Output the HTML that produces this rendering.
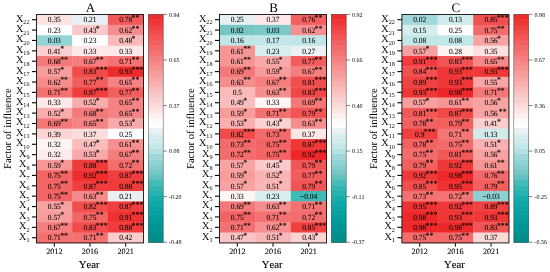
<!DOCTYPE html><html><head><meta charset="utf-8"><style>html,body{margin:0;padding:0;background:#fff;width:550px;height:272px;overflow:hidden;}svg{display:block;}text{font-family:"Liberation Serif","Times New Roman",serif;fill:#000;text-rendering:geometricPrecision;font-kerning:none;}</style></head><body>
<svg width="550" height="272" viewBox="0 0 550 272">
<g><rect x="36.50" y="14.50" width="36.07" height="10.78" fill="#fde2e2"/><rect x="72.17" y="14.50" width="36.07" height="10.78" fill="#e9f0f3"/><rect x="107.83" y="14.50" width="36.07" height="10.78" fill="#f25a5a"/><rect x="36.50" y="24.88" width="36.07" height="10.78" fill="#ffffff"/><rect x="72.17" y="24.88" width="36.07" height="10.78" fill="#fbc9c9"/><rect x="107.83" y="24.88" width="36.07" height="10.78" fill="#f68d8d"/><rect x="36.50" y="35.26" width="36.07" height="10.78" fill="#95d4d5"/><rect x="72.17" y="35.26" width="36.07" height="10.78" fill="#ffffff"/><rect x="107.83" y="35.26" width="36.07" height="10.78" fill="#f9b9b9"/><rect x="36.50" y="45.65" width="36.07" height="10.78" fill="#fbcfcf"/><rect x="72.17" y="45.65" width="36.07" height="10.78" fill="#fde8e8"/><rect x="107.83" y="45.65" width="36.07" height="10.78" fill="#fde8e8"/><rect x="36.50" y="56.03" width="36.07" height="10.78" fill="#f47a7a"/><rect x="72.17" y="56.03" width="36.07" height="10.78" fill="#f57d7d"/><rect x="107.83" y="56.03" width="36.07" height="10.78" fill="#f47171"/><rect x="36.50" y="66.41" width="36.07" height="10.78" fill="#f79d9d"/><rect x="72.17" y="66.41" width="36.07" height="10.78" fill="#f14b4b"/><rect x="107.83" y="66.41" width="36.07" height="10.78" fill="#ee2b2b"/><rect x="36.50" y="76.79" width="36.07" height="10.78" fill="#f68d8d"/><rect x="72.17" y="76.79" width="36.07" height="10.78" fill="#f25e5e"/><rect x="107.83" y="76.79" width="36.07" height="10.78" fill="#f58383"/><rect x="36.50" y="87.17" width="36.07" height="10.78" fill="#f47171"/><rect x="72.17" y="87.17" width="36.07" height="10.78" fill="#f03e3e"/><rect x="107.83" y="87.17" width="36.07" height="10.78" fill="#f25e5e"/><rect x="36.50" y="97.55" width="36.07" height="10.78" fill="#fde8e8"/><rect x="72.17" y="97.55" width="36.07" height="10.78" fill="#f8acac"/><rect x="107.83" y="97.55" width="36.07" height="10.78" fill="#f58383"/><rect x="36.50" y="107.94" width="36.07" height="10.78" fill="#f8acac"/><rect x="72.17" y="107.94" width="36.07" height="10.78" fill="#f47a7a"/><rect x="107.83" y="107.94" width="36.07" height="10.78" fill="#f58383"/><rect x="36.50" y="118.32" width="36.07" height="10.78" fill="#f47777"/><rect x="72.17" y="118.32" width="36.07" height="10.78" fill="#f58383"/><rect x="107.83" y="118.32" width="36.07" height="10.78" fill="#f8a9a9"/><rect x="36.50" y="128.70" width="36.07" height="10.78" fill="#fcd5d5"/><rect x="72.17" y="128.70" width="36.07" height="10.78" fill="#fcdcdc"/><rect x="107.83" y="128.70" width="36.07" height="10.78" fill="#ffffff"/><rect x="36.50" y="139.08" width="36.07" height="10.78" fill="#fdf4f4"/><rect x="72.17" y="139.08" width="36.07" height="10.78" fill="#fabcbc"/><rect x="107.83" y="139.08" width="36.07" height="10.78" fill="#f69090"/><rect x="36.50" y="149.46" width="36.07" height="10.78" fill="#fdecec"/><rect x="72.17" y="149.46" width="36.07" height="10.78" fill="#f8a9a9"/><rect x="107.83" y="149.46" width="36.07" height="10.78" fill="#f57d7d"/><rect x="36.50" y="159.85" width="36.07" height="10.78" fill="#f79696"/><rect x="72.17" y="159.85" width="36.07" height="10.78" fill="#ef3b3b"/><rect x="107.83" y="159.85" width="36.07" height="10.78" fill="#f36d6d"/><rect x="36.50" y="170.23" width="36.07" height="10.78" fill="#f36464"/><rect x="72.17" y="170.23" width="36.07" height="10.78" fill="#ee2e2e"/><rect x="107.83" y="170.23" width="36.07" height="10.78" fill="#f03e3e"/><rect x="36.50" y="180.61" width="36.07" height="10.78" fill="#f36464"/><rect x="72.17" y="180.61" width="36.07" height="10.78" fill="#f03e3e"/><rect x="107.83" y="180.61" width="36.07" height="10.78" fill="#ef3b3b"/><rect x="36.50" y="190.99" width="36.07" height="10.78" fill="#f36464"/><rect x="72.17" y="190.99" width="36.07" height="10.78" fill="#f68a8a"/><rect x="107.83" y="190.99" width="36.07" height="10.78" fill="#e9f0f3"/><rect x="36.50" y="201.37" width="36.07" height="10.78" fill="#f8a3a3"/><rect x="72.17" y="201.37" width="36.07" height="10.78" fill="#f14e4e"/><rect x="107.83" y="201.37" width="36.07" height="10.78" fill="#f03e3e"/><rect x="36.50" y="211.75" width="36.07" height="10.78" fill="#f79d9d"/><rect x="72.17" y="211.75" width="36.07" height="10.78" fill="#f36464"/><rect x="107.83" y="211.75" width="36.07" height="10.78" fill="#ef3131"/><rect x="36.50" y="222.14" width="36.07" height="10.78" fill="#f57d7d"/><rect x="72.17" y="222.14" width="36.07" height="10.78" fill="#f14b4b"/><rect x="107.83" y="222.14" width="36.07" height="10.78" fill="#ef3b3b"/><rect x="36.50" y="232.52" width="36.07" height="10.78" fill="#f47171"/><rect x="72.17" y="232.52" width="36.07" height="10.78" fill="#f47171"/><rect x="107.83" y="232.52" width="36.07" height="10.78" fill="#fbcccc"/><text x="47.81" y="22.39" font-size="8.0" textLength="13.04" lengthAdjust="spacingAndGlyphs" stroke="#000" stroke-width="0.05">0.35</text><text x="83.48" y="22.39" font-size="8.0" textLength="13.04" lengthAdjust="spacingAndGlyphs" stroke="#000" stroke-width="0.05">0.21</text><text x="119.15" y="22.39" font-size="8.0" textLength="13.04" lengthAdjust="spacingAndGlyphs" stroke="#000" stroke-width="0.05">0.78</text><text x="131.54" y="20.14" font-size="7.8" font-weight="bold">**</text><text x="47.81" y="32.77" font-size="8.0" textLength="13.04" lengthAdjust="spacingAndGlyphs" stroke="#000" stroke-width="0.05">0.23</text><text x="83.48" y="32.77" font-size="8.0" textLength="13.04" lengthAdjust="spacingAndGlyphs" stroke="#000" stroke-width="0.05">0.43</text><text x="95.87" y="30.52" font-size="7.8" font-weight="bold">*</text><text x="119.15" y="32.77" font-size="8.0" textLength="13.04" lengthAdjust="spacingAndGlyphs" stroke="#000" stroke-width="0.05">0.62</text><text x="131.54" y="30.52" font-size="7.8" font-weight="bold">**</text><text x="47.81" y="43.15" font-size="8.0" textLength="13.04" lengthAdjust="spacingAndGlyphs" stroke="#000" stroke-width="0.05">0.03</text><text x="83.48" y="43.15" font-size="8.0" textLength="13.04" lengthAdjust="spacingAndGlyphs" stroke="#000" stroke-width="0.05">0.23</text><text x="119.15" y="43.15" font-size="8.0" textLength="13.04" lengthAdjust="spacingAndGlyphs" stroke="#000" stroke-width="0.05">0.48</text><text x="131.54" y="40.90" font-size="7.8" font-weight="bold">*</text><text x="47.81" y="53.54" font-size="8.0" textLength="13.04" lengthAdjust="spacingAndGlyphs" stroke="#000" stroke-width="0.05">0.41</text><text x="60.20" y="51.29" font-size="7.8" font-weight="bold">*</text><text x="83.48" y="53.54" font-size="8.0" textLength="13.04" lengthAdjust="spacingAndGlyphs" stroke="#000" stroke-width="0.05">0.33</text><text x="119.15" y="53.54" font-size="8.0" textLength="13.04" lengthAdjust="spacingAndGlyphs" stroke="#000" stroke-width="0.05">0.33</text><text x="47.81" y="63.92" font-size="8.0" textLength="13.04" lengthAdjust="spacingAndGlyphs" stroke="#000" stroke-width="0.05">0.68</text><text x="60.20" y="61.67" font-size="7.8" font-weight="bold">**</text><text x="83.48" y="63.92" font-size="8.0" textLength="13.04" lengthAdjust="spacingAndGlyphs" stroke="#000" stroke-width="0.05">0.67</text><text x="95.87" y="61.67" font-size="7.8" font-weight="bold">**</text><text x="119.15" y="63.92" font-size="8.0" textLength="13.04" lengthAdjust="spacingAndGlyphs" stroke="#000" stroke-width="0.05">0.71</text><text x="131.54" y="61.67" font-size="7.8" font-weight="bold">**</text><text x="47.81" y="74.30" font-size="8.0" textLength="13.04" lengthAdjust="spacingAndGlyphs" stroke="#000" stroke-width="0.05">0.57</text><text x="60.20" y="72.05" font-size="7.8" font-weight="bold">*</text><text x="83.48" y="74.30" font-size="8.0" textLength="13.04" lengthAdjust="spacingAndGlyphs" stroke="#000" stroke-width="0.05">0.83</text><text x="95.87" y="72.05" font-size="7.8" font-weight="bold">***</text><text x="119.15" y="74.30" font-size="8.0" textLength="13.04" lengthAdjust="spacingAndGlyphs" stroke="#000" stroke-width="0.05">0.93</text><text x="131.54" y="72.05" font-size="7.8" font-weight="bold">***</text><text x="47.81" y="84.68" font-size="8.0" textLength="13.04" lengthAdjust="spacingAndGlyphs" stroke="#000" stroke-width="0.05">0.62</text><text x="60.20" y="82.43" font-size="7.8" font-weight="bold">**</text><text x="83.48" y="84.68" font-size="8.0" textLength="13.04" lengthAdjust="spacingAndGlyphs" stroke="#000" stroke-width="0.05">0.77</text><text x="95.87" y="82.43" font-size="7.8" font-weight="bold">**</text><text x="119.15" y="84.68" font-size="8.0" textLength="13.04" lengthAdjust="spacingAndGlyphs" stroke="#000" stroke-width="0.05">0.65</text><text x="131.54" y="82.43" font-size="7.8" font-weight="bold">**</text><text x="47.81" y="95.06" font-size="8.0" textLength="13.04" lengthAdjust="spacingAndGlyphs" stroke="#000" stroke-width="0.05">0.71</text><text x="60.20" y="92.81" font-size="7.8" font-weight="bold">**</text><text x="83.48" y="95.06" font-size="8.0" textLength="13.04" lengthAdjust="spacingAndGlyphs" stroke="#000" stroke-width="0.05">0.87</text><text x="95.87" y="92.81" font-size="7.8" font-weight="bold">***</text><text x="119.15" y="95.06" font-size="8.0" textLength="13.04" lengthAdjust="spacingAndGlyphs" stroke="#000" stroke-width="0.05">0.77</text><text x="131.54" y="92.81" font-size="7.8" font-weight="bold">**</text><text x="47.81" y="105.45" font-size="8.0" textLength="13.04" lengthAdjust="spacingAndGlyphs" stroke="#000" stroke-width="0.05">0.33</text><text x="83.48" y="105.45" font-size="8.0" textLength="13.04" lengthAdjust="spacingAndGlyphs" stroke="#000" stroke-width="0.05">0.52</text><text x="95.87" y="103.20" font-size="7.8" font-weight="bold">*</text><text x="119.15" y="105.45" font-size="8.0" textLength="13.04" lengthAdjust="spacingAndGlyphs" stroke="#000" stroke-width="0.05">0.65</text><text x="131.54" y="103.20" font-size="7.8" font-weight="bold">**</text><text x="47.81" y="115.83" font-size="8.0" textLength="13.04" lengthAdjust="spacingAndGlyphs" stroke="#000" stroke-width="0.05">0.52</text><text x="60.20" y="113.58" font-size="7.8" font-weight="bold">*</text><text x="83.48" y="115.83" font-size="8.0" textLength="13.04" lengthAdjust="spacingAndGlyphs" stroke="#000" stroke-width="0.05">0.68</text><text x="95.87" y="113.58" font-size="7.8" font-weight="bold">**</text><text x="119.15" y="115.83" font-size="8.0" textLength="13.04" lengthAdjust="spacingAndGlyphs" stroke="#000" stroke-width="0.05">0.65</text><text x="131.54" y="113.58" font-size="7.8" font-weight="bold">**</text><text x="47.81" y="126.21" font-size="8.0" textLength="13.04" lengthAdjust="spacingAndGlyphs" stroke="#000" stroke-width="0.05">0.69</text><text x="60.20" y="123.96" font-size="7.8" font-weight="bold">**</text><text x="83.48" y="126.21" font-size="8.0" textLength="13.04" lengthAdjust="spacingAndGlyphs" stroke="#000" stroke-width="0.05">0.65</text><text x="95.87" y="123.96" font-size="7.8" font-weight="bold">**</text><text x="119.15" y="126.21" font-size="8.0" textLength="13.04" lengthAdjust="spacingAndGlyphs" stroke="#000" stroke-width="0.05">0.53</text><text x="131.54" y="123.96" font-size="7.8" font-weight="bold">*</text><text x="47.81" y="136.59" font-size="8.0" textLength="13.04" lengthAdjust="spacingAndGlyphs" stroke="#000" stroke-width="0.05">0.39</text><text x="83.48" y="136.59" font-size="8.0" textLength="13.04" lengthAdjust="spacingAndGlyphs" stroke="#000" stroke-width="0.05">0.37</text><text x="119.15" y="136.59" font-size="8.0" textLength="13.04" lengthAdjust="spacingAndGlyphs" stroke="#000" stroke-width="0.05">0.25</text><text x="47.81" y="146.97" font-size="8.0" textLength="13.04" lengthAdjust="spacingAndGlyphs" stroke="#000" stroke-width="0.05">0.32</text><text x="83.48" y="146.97" font-size="8.0" textLength="13.04" lengthAdjust="spacingAndGlyphs" stroke="#000" stroke-width="0.05">0.47</text><text x="95.87" y="144.72" font-size="7.8" font-weight="bold">*</text><text x="119.15" y="146.97" font-size="8.0" textLength="13.04" lengthAdjust="spacingAndGlyphs" stroke="#000" stroke-width="0.05">0.61</text><text x="131.54" y="144.72" font-size="7.8" font-weight="bold">**</text><text x="47.81" y="157.35" font-size="8.0" textLength="13.04" lengthAdjust="spacingAndGlyphs" stroke="#000" stroke-width="0.05">0.32</text><text x="83.48" y="157.35" font-size="8.0" textLength="13.04" lengthAdjust="spacingAndGlyphs" stroke="#000" stroke-width="0.05">0.53</text><text x="95.87" y="155.10" font-size="7.8" font-weight="bold">*</text><text x="119.15" y="157.35" font-size="8.0" textLength="13.04" lengthAdjust="spacingAndGlyphs" stroke="#000" stroke-width="0.05">0.67</text><text x="131.54" y="155.10" font-size="7.8" font-weight="bold">**</text><text x="47.81" y="167.74" font-size="8.0" textLength="13.04" lengthAdjust="spacingAndGlyphs" stroke="#000" stroke-width="0.05">0.59</text><text x="60.20" y="165.49" font-size="7.8" font-weight="bold">*</text><text x="83.48" y="167.74" font-size="8.0" textLength="13.04" lengthAdjust="spacingAndGlyphs" stroke="#000" stroke-width="0.05">0.88</text><text x="95.87" y="165.49" font-size="7.8" font-weight="bold">***</text><text x="119.15" y="167.74" font-size="8.0" textLength="13.04" lengthAdjust="spacingAndGlyphs" stroke="#000" stroke-width="0.05">0.72</text><text x="131.54" y="165.49" font-size="7.8" font-weight="bold">**</text><text x="47.81" y="178.12" font-size="8.0" textLength="13.04" lengthAdjust="spacingAndGlyphs" stroke="#000" stroke-width="0.05">0.75</text><text x="60.20" y="175.87" font-size="7.8" font-weight="bold">**</text><text x="83.48" y="178.12" font-size="8.0" textLength="13.04" lengthAdjust="spacingAndGlyphs" stroke="#000" stroke-width="0.05">0.92</text><text x="95.87" y="175.87" font-size="7.8" font-weight="bold">***</text><text x="119.15" y="178.12" font-size="8.0" textLength="13.04" lengthAdjust="spacingAndGlyphs" stroke="#000" stroke-width="0.05">0.87</text><text x="131.54" y="175.87" font-size="7.8" font-weight="bold">***</text><text x="47.81" y="188.50" font-size="8.0" textLength="13.04" lengthAdjust="spacingAndGlyphs" stroke="#000" stroke-width="0.05">0.75</text><text x="60.20" y="186.25" font-size="7.8" font-weight="bold">**</text><text x="83.48" y="188.50" font-size="8.0" textLength="13.04" lengthAdjust="spacingAndGlyphs" stroke="#000" stroke-width="0.05">0.87</text><text x="95.87" y="186.25" font-size="7.8" font-weight="bold">***</text><text x="119.15" y="188.50" font-size="8.0" textLength="13.04" lengthAdjust="spacingAndGlyphs" stroke="#000" stroke-width="0.05">0.88</text><text x="131.54" y="186.25" font-size="7.8" font-weight="bold">***</text><text x="47.81" y="198.88" font-size="8.0" textLength="13.04" lengthAdjust="spacingAndGlyphs" stroke="#000" stroke-width="0.05">0.75</text><text x="60.20" y="196.63" font-size="7.8" font-weight="bold">**</text><text x="83.48" y="198.88" font-size="8.0" textLength="13.04" lengthAdjust="spacingAndGlyphs" stroke="#000" stroke-width="0.05">0.63</text><text x="95.87" y="196.63" font-size="7.8" font-weight="bold">**</text><text x="119.15" y="198.88" font-size="8.0" textLength="13.04" lengthAdjust="spacingAndGlyphs" stroke="#000" stroke-width="0.05">0.21</text><text x="47.81" y="209.26" font-size="8.0" textLength="13.04" lengthAdjust="spacingAndGlyphs" stroke="#000" stroke-width="0.05">0.55</text><text x="60.20" y="207.01" font-size="7.8" font-weight="bold">*</text><text x="83.48" y="209.26" font-size="8.0" textLength="13.04" lengthAdjust="spacingAndGlyphs" stroke="#000" stroke-width="0.05">0.82</text><text x="95.87" y="207.01" font-size="7.8" font-weight="bold">***</text><text x="119.15" y="209.26" font-size="8.0" textLength="13.04" lengthAdjust="spacingAndGlyphs" stroke="#000" stroke-width="0.05">0.87</text><text x="131.54" y="207.01" font-size="7.8" font-weight="bold">***</text><text x="47.81" y="219.65" font-size="8.0" textLength="13.04" lengthAdjust="spacingAndGlyphs" stroke="#000" stroke-width="0.05">0.57</text><text x="60.20" y="217.40" font-size="7.8" font-weight="bold">*</text><text x="83.48" y="219.65" font-size="8.0" textLength="13.04" lengthAdjust="spacingAndGlyphs" stroke="#000" stroke-width="0.05">0.75</text><text x="95.87" y="217.40" font-size="7.8" font-weight="bold">**</text><text x="119.15" y="219.65" font-size="8.0" textLength="13.04" lengthAdjust="spacingAndGlyphs" stroke="#000" stroke-width="0.05">0.91</text><text x="131.54" y="217.40" font-size="7.8" font-weight="bold">***</text><text x="47.81" y="230.03" font-size="8.0" textLength="13.04" lengthAdjust="spacingAndGlyphs" stroke="#000" stroke-width="0.05">0.67</text><text x="60.20" y="227.78" font-size="7.8" font-weight="bold">**</text><text x="83.48" y="230.03" font-size="8.0" textLength="13.04" lengthAdjust="spacingAndGlyphs" stroke="#000" stroke-width="0.05">0.83</text><text x="95.87" y="227.78" font-size="7.8" font-weight="bold">***</text><text x="119.15" y="230.03" font-size="8.0" textLength="13.04" lengthAdjust="spacingAndGlyphs" stroke="#000" stroke-width="0.05">0.88</text><text x="131.54" y="227.78" font-size="7.8" font-weight="bold">***</text><text x="47.81" y="240.41" font-size="8.0" textLength="13.04" lengthAdjust="spacingAndGlyphs" stroke="#000" stroke-width="0.05">0.71</text><text x="60.20" y="238.16" font-size="7.8" font-weight="bold">**</text><text x="83.48" y="240.41" font-size="8.0" textLength="13.04" lengthAdjust="spacingAndGlyphs" stroke="#000" stroke-width="0.05">0.71</text><text x="95.87" y="238.16" font-size="7.8" font-weight="bold">**</text><text x="119.15" y="240.41" font-size="8.0" textLength="13.04" lengthAdjust="spacingAndGlyphs" stroke="#000" stroke-width="0.05">0.42</text><rect x="36.50" y="14.50" width="107.00" height="228.40" fill="none" stroke="#1a1a1a" stroke-width="0.95"/><line x1="32.00" y1="19.69" x2="36.50" y2="19.69" stroke="#000" stroke-width="1.1"/><text x="29.50" y="21.59" font-size="10.2" text-anchor="end">X<tspan font-size="6.2" dy="2.6">22</tspan></text><line x1="32.00" y1="30.07" x2="36.50" y2="30.07" stroke="#000" stroke-width="1.1"/><text x="29.50" y="31.97" font-size="10.2" text-anchor="end">X<tspan font-size="6.2" dy="2.6">21</tspan></text><line x1="32.00" y1="40.45" x2="36.50" y2="40.45" stroke="#000" stroke-width="1.1"/><text x="29.50" y="42.35" font-size="10.2" text-anchor="end">X<tspan font-size="6.2" dy="2.6">20</tspan></text><line x1="32.00" y1="50.84" x2="36.50" y2="50.84" stroke="#000" stroke-width="1.1"/><text x="29.50" y="52.74" font-size="10.2" text-anchor="end">X<tspan font-size="6.2" dy="2.6">19</tspan></text><line x1="32.00" y1="61.22" x2="36.50" y2="61.22" stroke="#000" stroke-width="1.1"/><text x="29.50" y="63.12" font-size="10.2" text-anchor="end">X<tspan font-size="6.2" dy="2.6">18</tspan></text><line x1="32.00" y1="71.60" x2="36.50" y2="71.60" stroke="#000" stroke-width="1.1"/><text x="29.50" y="73.50" font-size="10.2" text-anchor="end">X<tspan font-size="6.2" dy="2.6">17</tspan></text><line x1="32.00" y1="81.98" x2="36.50" y2="81.98" stroke="#000" stroke-width="1.1"/><text x="29.50" y="83.88" font-size="10.2" text-anchor="end">X<tspan font-size="6.2" dy="2.6">16</tspan></text><line x1="32.00" y1="92.36" x2="36.50" y2="92.36" stroke="#000" stroke-width="1.1"/><text x="29.50" y="94.26" font-size="10.2" text-anchor="end">X<tspan font-size="6.2" dy="2.6">15</tspan></text><line x1="32.00" y1="102.75" x2="36.50" y2="102.75" stroke="#000" stroke-width="1.1"/><text x="29.50" y="104.65" font-size="10.2" text-anchor="end">X<tspan font-size="6.2" dy="2.6">14</tspan></text><line x1="32.00" y1="113.13" x2="36.50" y2="113.13" stroke="#000" stroke-width="1.1"/><text x="29.50" y="115.03" font-size="10.2" text-anchor="end">X<tspan font-size="6.2" dy="2.6">13</tspan></text><line x1="32.00" y1="123.51" x2="36.50" y2="123.51" stroke="#000" stroke-width="1.1"/><text x="29.50" y="125.41" font-size="10.2" text-anchor="end">X<tspan font-size="6.2" dy="2.6">12</tspan></text><line x1="32.00" y1="133.89" x2="36.50" y2="133.89" stroke="#000" stroke-width="1.1"/><text x="29.50" y="135.79" font-size="10.2" text-anchor="end">X<tspan font-size="6.2" dy="2.6">11</tspan></text><line x1="32.00" y1="144.27" x2="36.50" y2="144.27" stroke="#000" stroke-width="1.1"/><text x="29.50" y="146.17" font-size="10.2" text-anchor="end">X<tspan font-size="6.2" dy="2.6">10</tspan></text><line x1="32.00" y1="154.65" x2="36.50" y2="154.65" stroke="#000" stroke-width="1.1"/><text x="29.50" y="156.55" font-size="10.2" text-anchor="end">X<tspan font-size="6.2" dy="2.6">9</tspan></text><line x1="32.00" y1="165.04" x2="36.50" y2="165.04" stroke="#000" stroke-width="1.1"/><text x="29.50" y="166.94" font-size="10.2" text-anchor="end">X<tspan font-size="6.2" dy="2.6">8</tspan></text><line x1="32.00" y1="175.42" x2="36.50" y2="175.42" stroke="#000" stroke-width="1.1"/><text x="29.50" y="177.32" font-size="10.2" text-anchor="end">X<tspan font-size="6.2" dy="2.6">7</tspan></text><line x1="32.00" y1="185.80" x2="36.50" y2="185.80" stroke="#000" stroke-width="1.1"/><text x="29.50" y="187.70" font-size="10.2" text-anchor="end">X<tspan font-size="6.2" dy="2.6">6</tspan></text><line x1="32.00" y1="196.18" x2="36.50" y2="196.18" stroke="#000" stroke-width="1.1"/><text x="29.50" y="198.08" font-size="10.2" text-anchor="end">X<tspan font-size="6.2" dy="2.6">5</tspan></text><line x1="32.00" y1="206.56" x2="36.50" y2="206.56" stroke="#000" stroke-width="1.1"/><text x="29.50" y="208.46" font-size="10.2" text-anchor="end">X<tspan font-size="6.2" dy="2.6">4</tspan></text><line x1="32.00" y1="216.95" x2="36.50" y2="216.95" stroke="#000" stroke-width="1.1"/><text x="29.50" y="218.85" font-size="10.2" text-anchor="end">X<tspan font-size="6.2" dy="2.6">3</tspan></text><line x1="32.00" y1="227.33" x2="36.50" y2="227.33" stroke="#000" stroke-width="1.1"/><text x="29.50" y="229.23" font-size="10.2" text-anchor="end">X<tspan font-size="6.2" dy="2.6">2</tspan></text><line x1="32.00" y1="237.71" x2="36.50" y2="237.71" stroke="#000" stroke-width="1.1"/><text x="29.50" y="239.61" font-size="10.2" text-anchor="end">X<tspan font-size="6.2" dy="2.6">1</tspan></text><line x1="54.33" y1="242.90" x2="54.33" y2="246.80" stroke="#222" stroke-width="1.1"/><text x="54.33" y="253.6" font-size="8.2" text-anchor="middle" stroke="#000" stroke-width="0.08">2012</text><line x1="90.00" y1="242.90" x2="90.00" y2="246.80" stroke="#222" stroke-width="1.1"/><text x="90.00" y="253.6" font-size="8.2" text-anchor="middle" stroke="#000" stroke-width="0.08">2016</text><line x1="125.67" y1="242.90" x2="125.67" y2="246.80" stroke="#222" stroke-width="1.1"/><text x="125.67" y="253.6" font-size="8.2" text-anchor="middle" stroke="#000" stroke-width="0.08">2021</text><text x="89.10" y="267.6" font-size="10.7" text-anchor="middle" stroke="#000" stroke-width="0.15">Year</text><text x="90.50" y="11.6" font-size="13" text-anchor="middle">A</text><text transform="translate(11.20,128.70) rotate(-90)" font-size="10.6" text-anchor="middle">Factor of influence</text><defs><linearGradient id="cbA" x1="0" y1="0" x2="0" y2="1"><stop offset="0.0000" stop-color="#ee2d2d"/><stop offset="0.0227" stop-color="#ee2d2d"/><stop offset="0.0227" stop-color="#ef3737"/><stop offset="0.0455" stop-color="#ef3737"/><stop offset="0.0455" stop-color="#f04141"/><stop offset="0.0682" stop-color="#f04141"/><stop offset="0.0682" stop-color="#f14c4c"/><stop offset="0.0909" stop-color="#f14c4c"/><stop offset="0.0909" stop-color="#f25656"/><stop offset="0.1136" stop-color="#f25656"/><stop offset="0.1136" stop-color="#f26060"/><stop offset="0.1364" stop-color="#f26060"/><stop offset="0.1364" stop-color="#f36a6a"/><stop offset="0.1591" stop-color="#f36a6a"/><stop offset="0.1591" stop-color="#f47474"/><stop offset="0.1818" stop-color="#f47474"/><stop offset="0.1818" stop-color="#f57f7f"/><stop offset="0.2045" stop-color="#f57f7f"/><stop offset="0.2045" stop-color="#f68989"/><stop offset="0.2273" stop-color="#f68989"/><stop offset="0.2273" stop-color="#f69393"/><stop offset="0.2500" stop-color="#f69393"/><stop offset="0.2500" stop-color="#f79d9d"/><stop offset="0.2727" stop-color="#f79d9d"/><stop offset="0.2727" stop-color="#f8a7a7"/><stop offset="0.2955" stop-color="#f8a7a7"/><stop offset="0.2955" stop-color="#f9b1b1"/><stop offset="0.3182" stop-color="#f9b1b1"/><stop offset="0.3182" stop-color="#fabcbc"/><stop offset="0.3409" stop-color="#fabcbc"/><stop offset="0.3409" stop-color="#fac6c6"/><stop offset="0.3636" stop-color="#fac6c6"/><stop offset="0.3636" stop-color="#fbd0d0"/><stop offset="0.3864" stop-color="#fbd0d0"/><stop offset="0.3864" stop-color="#fcdada"/><stop offset="0.4091" stop-color="#fcdada"/><stop offset="0.4091" stop-color="#fde4e4"/><stop offset="0.4318" stop-color="#fde4e4"/><stop offset="0.4318" stop-color="#feefef"/><stop offset="0.4545" stop-color="#feefef"/><stop offset="0.4545" stop-color="#fff9f9"/><stop offset="0.4773" stop-color="#fff9f9"/><stop offset="0.4773" stop-color="#ffffff"/><stop offset="0.5000" stop-color="#ffffff"/><stop offset="0.5000" stop-color="#eaf0f3"/><stop offset="0.5227" stop-color="#eaf0f3"/><stop offset="0.5227" stop-color="#d8eeee"/><stop offset="0.5455" stop-color="#d8eeee"/><stop offset="0.5455" stop-color="#cdebeb"/><stop offset="0.5682" stop-color="#cdebeb"/><stop offset="0.5682" stop-color="#c4e7e9"/><stop offset="0.5909" stop-color="#c4e7e9"/><stop offset="0.5909" stop-color="#b5e1e3"/><stop offset="0.6136" stop-color="#b5e1e3"/><stop offset="0.6136" stop-color="#a0d8d9"/><stop offset="0.6364" stop-color="#a0d8d9"/><stop offset="0.6364" stop-color="#91d2d3"/><stop offset="0.6591" stop-color="#91d2d3"/><stop offset="0.6591" stop-color="#84cdcd"/><stop offset="0.6818" stop-color="#84cdcd"/><stop offset="0.6818" stop-color="#78c7c6"/><stop offset="0.7045" stop-color="#78c7c6"/><stop offset="0.7045" stop-color="#60c1bf"/><stop offset="0.7273" stop-color="#60c1bf"/><stop offset="0.7273" stop-color="#46bcb8"/><stop offset="0.7500" stop-color="#46bcb8"/><stop offset="0.7500" stop-color="#33b6b3"/><stop offset="0.7727" stop-color="#33b6b3"/><stop offset="0.7727" stop-color="#25b2b0"/><stop offset="0.7955" stop-color="#25b2b0"/><stop offset="0.7955" stop-color="#16adac"/><stop offset="0.8182" stop-color="#16adac"/><stop offset="0.8182" stop-color="#10a8a8"/><stop offset="0.8409" stop-color="#10a8a8"/><stop offset="0.8409" stop-color="#0ca4a4"/><stop offset="0.8636" stop-color="#0ca4a4"/><stop offset="0.8636" stop-color="#08a09f"/><stop offset="0.8864" stop-color="#08a09f"/><stop offset="0.8864" stop-color="#049c9a"/><stop offset="0.9091" stop-color="#049c9a"/><stop offset="0.9091" stop-color="#009896"/><stop offset="0.9318" stop-color="#009896"/><stop offset="0.9318" stop-color="#009493"/><stop offset="0.9545" stop-color="#009493"/><stop offset="0.9545" stop-color="#00908f"/><stop offset="0.9773" stop-color="#00908f"/><stop offset="0.9773" stop-color="#008c8c"/><stop offset="1.0000" stop-color="#008c8c"/></linearGradient></defs><rect x="148.40" y="14.30" width="14.80" height="228.30" fill="url(#cbA)"/><rect x="148.40" y="14.30" width="14.80" height="228.30" fill="none" stroke="#000" stroke-opacity="0.6" stroke-width="0.6"/><line x1="163.20" y1="14.40" x2="167.00" y2="14.40" stroke="#333" stroke-width="0.6"/><text x="169.00" y="16.50" font-size="6" fill="#4a4a4a">0.94</text><line x1="163.20" y1="59.96" x2="167.00" y2="59.96" stroke="#333" stroke-width="0.6"/><text x="169.00" y="62.06" font-size="6" fill="#4a4a4a">0.65</text><line x1="163.20" y1="105.52" x2="167.00" y2="105.52" stroke="#333" stroke-width="0.6"/><text x="169.00" y="107.62" font-size="6" fill="#4a4a4a">0.37</text><line x1="163.20" y1="151.08" x2="167.00" y2="151.08" stroke="#333" stroke-width="0.6"/><text x="169.00" y="153.18" font-size="6" fill="#4a4a4a">0.08</text><line x1="163.20" y1="196.64" x2="167.00" y2="196.64" stroke="#333" stroke-width="0.6"/><text x="169.00" y="198.74" font-size="6" fill="#4a4a4a">-0.20</text><line x1="163.20" y1="242.20" x2="167.00" y2="242.20" stroke="#333" stroke-width="0.6"/><text x="169.00" y="244.30" font-size="6" fill="#4a4a4a">-0.48</text></g>
<g><rect x="219.50" y="14.50" width="36.07" height="10.78" fill="#e5f0f2"/><rect x="255.17" y="14.50" width="36.07" height="10.78" fill="#fde7e7"/><rect x="290.83" y="14.50" width="36.07" height="10.78" fill="#f26060"/><rect x="219.50" y="24.88" width="36.07" height="10.78" fill="#76c6c5"/><rect x="255.17" y="24.88" width="36.07" height="10.78" fill="#7ac8c7"/><rect x="290.83" y="24.88" width="36.07" height="10.78" fill="#f69090"/><rect x="219.50" y="35.26" width="36.07" height="10.78" fill="#c0e6e8"/><rect x="255.17" y="35.26" width="36.07" height="10.78" fill="#c3e7e9"/><rect x="290.83" y="35.26" width="36.07" height="10.78" fill="#c0e6e8"/><rect x="219.50" y="45.65" width="36.07" height="10.78" fill="#f79494"/><rect x="255.17" y="45.65" width="36.07" height="10.78" fill="#d7eeee"/><rect x="290.83" y="45.65" width="36.07" height="10.78" fill="#ebf1f4"/><rect x="219.50" y="56.03" width="36.07" height="10.78" fill="#f79494"/><rect x="255.17" y="56.03" width="36.07" height="10.78" fill="#f8a8a8"/><rect x="290.83" y="56.03" width="36.07" height="10.78" fill="#f25c5c"/><rect x="219.50" y="66.41" width="36.07" height="10.78" fill="#f47878"/><rect x="255.17" y="66.41" width="36.07" height="10.78" fill="#f79b9b"/><rect x="290.83" y="66.41" width="36.07" height="10.78" fill="#f57f7f"/><rect x="219.50" y="76.79" width="36.07" height="10.78" fill="#f68d8d"/><rect x="255.17" y="76.79" width="36.07" height="10.78" fill="#f57f7f"/><rect x="290.83" y="76.79" width="36.07" height="10.78" fill="#f14e4e"/><rect x="219.50" y="87.17" width="36.07" height="10.78" fill="#fababa"/><rect x="255.17" y="87.17" width="36.07" height="10.78" fill="#f68d8d"/><rect x="290.83" y="87.17" width="36.07" height="10.78" fill="#f04747"/><rect x="219.50" y="97.55" width="36.07" height="10.78" fill="#fabdbd"/><rect x="255.17" y="97.55" width="36.07" height="10.78" fill="#fef5f5"/><rect x="290.83" y="97.55" width="36.07" height="10.78" fill="#f47878"/><rect x="219.50" y="107.94" width="36.07" height="10.78" fill="#f79b9b"/><rect x="255.17" y="107.94" width="36.07" height="10.78" fill="#f47171"/><rect x="290.83" y="107.94" width="36.07" height="10.78" fill="#f25555"/><rect x="219.50" y="118.32" width="36.07" height="10.78" fill="#f9afaf"/><rect x="255.17" y="118.32" width="36.07" height="10.78" fill="#fbd2d2"/><rect x="290.83" y="118.32" width="36.07" height="10.78" fill="#f68d8d"/><rect x="219.50" y="128.70" width="36.07" height="10.78" fill="#f14b4b"/><rect x="255.17" y="128.70" width="36.07" height="10.78" fill="#f36a6a"/><rect x="290.83" y="128.70" width="36.07" height="10.78" fill="#fde7e7"/><rect x="219.50" y="139.08" width="36.07" height="10.78" fill="#f36a6a"/><rect x="255.17" y="139.08" width="36.07" height="10.78" fill="#f36363"/><rect x="290.83" y="139.08" width="36.07" height="10.78" fill="#ef3939"/><rect x="219.50" y="149.46" width="36.07" height="10.78" fill="#f36d6d"/><rect x="255.17" y="149.46" width="36.07" height="10.78" fill="#f36363"/><rect x="290.83" y="149.46" width="36.07" height="10.78" fill="#ee2828"/><rect x="219.50" y="159.85" width="36.07" height="10.78" fill="#f8a2a2"/><rect x="255.17" y="159.85" width="36.07" height="10.78" fill="#fbcbcb"/><rect x="290.83" y="159.85" width="36.07" height="10.78" fill="#f25555"/><rect x="219.50" y="170.23" width="36.07" height="10.78" fill="#f79b9b"/><rect x="255.17" y="170.23" width="36.07" height="10.78" fill="#f9b3b3"/><rect x="290.83" y="170.23" width="36.07" height="10.78" fill="#f25c5c"/><rect x="219.50" y="180.61" width="36.07" height="10.78" fill="#f8a2a2"/><rect x="255.17" y="180.61" width="36.07" height="10.78" fill="#f9b6b6"/><rect x="290.83" y="180.61" width="36.07" height="10.78" fill="#f25555"/><rect x="219.50" y="190.99" width="36.07" height="10.78" fill="#fef5f5"/><rect x="255.17" y="190.99" width="36.07" height="10.78" fill="#d7eeee"/><rect x="290.83" y="190.99" width="36.07" height="10.78" fill="#3fbab6"/><rect x="219.50" y="201.37" width="36.07" height="10.78" fill="#f47878"/><rect x="255.17" y="201.37" width="36.07" height="10.78" fill="#f68d8d"/><rect x="290.83" y="201.37" width="36.07" height="10.78" fill="#f47171"/><rect x="219.50" y="211.75" width="36.07" height="10.78" fill="#f36363"/><rect x="255.17" y="211.75" width="36.07" height="10.78" fill="#f47171"/><rect x="290.83" y="211.75" width="36.07" height="10.78" fill="#f36d6d"/><rect x="219.50" y="222.14" width="36.07" height="10.78" fill="#f47171"/><rect x="255.17" y="222.14" width="36.07" height="10.78" fill="#f69090"/><rect x="290.83" y="222.14" width="36.07" height="10.78" fill="#f04040"/><rect x="219.50" y="232.52" width="36.07" height="10.78" fill="#fac4c4"/><rect x="255.17" y="232.52" width="36.07" height="10.78" fill="#f9b6b6"/><rect x="290.83" y="232.52" width="36.07" height="10.78" fill="#fbd2d2"/><text x="230.81" y="22.39" font-size="8.0" textLength="13.04" lengthAdjust="spacingAndGlyphs" stroke="#000" stroke-width="0.05">0.25</text><text x="266.48" y="22.39" font-size="8.0" textLength="13.04" lengthAdjust="spacingAndGlyphs" stroke="#000" stroke-width="0.05">0.37</text><text x="302.15" y="22.39" font-size="8.0" textLength="13.04" lengthAdjust="spacingAndGlyphs" stroke="#000" stroke-width="0.05">0.76</text><text x="314.54" y="20.14" font-size="7.8" font-weight="bold">**</text><text x="230.81" y="32.77" font-size="8.0" textLength="13.04" lengthAdjust="spacingAndGlyphs" stroke="#000" stroke-width="0.05">0.02</text><text x="266.48" y="32.77" font-size="8.0" textLength="13.04" lengthAdjust="spacingAndGlyphs" stroke="#000" stroke-width="0.05">0.03</text><text x="302.15" y="32.77" font-size="8.0" textLength="13.04" lengthAdjust="spacingAndGlyphs" stroke="#000" stroke-width="0.05">0.62</text><text x="314.54" y="30.52" font-size="7.8" font-weight="bold">**</text><text x="230.81" y="43.15" font-size="8.0" textLength="13.04" lengthAdjust="spacingAndGlyphs" stroke="#000" stroke-width="0.05">0.16</text><text x="266.48" y="43.15" font-size="8.0" textLength="13.04" lengthAdjust="spacingAndGlyphs" stroke="#000" stroke-width="0.05">0.17</text><text x="302.15" y="43.15" font-size="8.0" textLength="13.04" lengthAdjust="spacingAndGlyphs" stroke="#000" stroke-width="0.05">0.16</text><text x="230.81" y="53.54" font-size="8.0" textLength="13.04" lengthAdjust="spacingAndGlyphs" stroke="#000" stroke-width="0.05">0.61</text><text x="243.20" y="51.29" font-size="7.8" font-weight="bold">**</text><text x="266.48" y="53.54" font-size="8.0" textLength="13.04" lengthAdjust="spacingAndGlyphs" stroke="#000" stroke-width="0.05">0.23</text><text x="302.15" y="53.54" font-size="8.0" textLength="13.04" lengthAdjust="spacingAndGlyphs" stroke="#000" stroke-width="0.05">0.27</text><text x="230.81" y="63.92" font-size="8.0" textLength="13.04" lengthAdjust="spacingAndGlyphs" stroke="#000" stroke-width="0.05">0.61</text><text x="243.20" y="61.67" font-size="7.8" font-weight="bold">**</text><text x="266.48" y="63.92" font-size="8.0" textLength="13.04" lengthAdjust="spacingAndGlyphs" stroke="#000" stroke-width="0.05">0.55</text><text x="278.87" y="61.67" font-size="7.8" font-weight="bold">*</text><text x="302.15" y="63.92" font-size="8.0" textLength="13.04" lengthAdjust="spacingAndGlyphs" stroke="#000" stroke-width="0.05">0.77</text><text x="314.54" y="61.67" font-size="7.8" font-weight="bold">**</text><text x="230.81" y="74.30" font-size="8.0" textLength="13.04" lengthAdjust="spacingAndGlyphs" stroke="#000" stroke-width="0.05">0.69</text><text x="243.20" y="72.05" font-size="7.8" font-weight="bold">**</text><text x="266.48" y="74.30" font-size="8.0" textLength="13.04" lengthAdjust="spacingAndGlyphs" stroke="#000" stroke-width="0.05">0.59</text><text x="278.87" y="72.05" font-size="7.8" font-weight="bold">*</text><text x="302.15" y="74.30" font-size="8.0" textLength="13.04" lengthAdjust="spacingAndGlyphs" stroke="#000" stroke-width="0.05">0.67</text><text x="314.54" y="72.05" font-size="7.8" font-weight="bold">**</text><text x="230.81" y="84.68" font-size="8.0" textLength="13.04" lengthAdjust="spacingAndGlyphs" stroke="#000" stroke-width="0.05">0.63</text><text x="243.20" y="82.43" font-size="7.8" font-weight="bold">**</text><text x="266.48" y="84.68" font-size="8.0" textLength="13.04" lengthAdjust="spacingAndGlyphs" stroke="#000" stroke-width="0.05">0.67</text><text x="278.87" y="82.43" font-size="7.8" font-weight="bold">**</text><text x="302.15" y="84.68" font-size="8.0" textLength="13.04" lengthAdjust="spacingAndGlyphs" stroke="#000" stroke-width="0.05">0.81</text><text x="314.54" y="82.43" font-size="7.8" font-weight="bold">***</text><text x="232.68" y="95.06" font-size="8.0" textLength="9.31" lengthAdjust="spacingAndGlyphs" stroke="#000" stroke-width="0.05">0.5</text><text x="266.48" y="95.06" font-size="8.0" textLength="13.04" lengthAdjust="spacingAndGlyphs" stroke="#000" stroke-width="0.05">0.63</text><text x="278.87" y="92.81" font-size="7.8" font-weight="bold">**</text><text x="302.15" y="95.06" font-size="8.0" textLength="13.04" lengthAdjust="spacingAndGlyphs" stroke="#000" stroke-width="0.05">0.83</text><text x="314.54" y="92.81" font-size="7.8" font-weight="bold">***</text><text x="230.81" y="105.45" font-size="8.0" textLength="13.04" lengthAdjust="spacingAndGlyphs" stroke="#000" stroke-width="0.05">0.49</text><text x="243.20" y="103.20" font-size="7.8" font-weight="bold">*</text><text x="266.48" y="105.45" font-size="8.0" textLength="13.04" lengthAdjust="spacingAndGlyphs" stroke="#000" stroke-width="0.05">0.33</text><text x="302.15" y="105.45" font-size="8.0" textLength="13.04" lengthAdjust="spacingAndGlyphs" stroke="#000" stroke-width="0.05">0.69</text><text x="314.54" y="103.20" font-size="7.8" font-weight="bold">**</text><text x="230.81" y="115.83" font-size="8.0" textLength="13.04" lengthAdjust="spacingAndGlyphs" stroke="#000" stroke-width="0.05">0.59</text><text x="243.20" y="113.58" font-size="7.8" font-weight="bold">*</text><text x="266.48" y="115.83" font-size="8.0" textLength="13.04" lengthAdjust="spacingAndGlyphs" stroke="#000" stroke-width="0.05">0.71</text><text x="278.87" y="113.58" font-size="7.8" font-weight="bold">**</text><text x="302.15" y="115.83" font-size="8.0" textLength="13.04" lengthAdjust="spacingAndGlyphs" stroke="#000" stroke-width="0.05">0.79</text><text x="314.54" y="113.58" font-size="7.8" font-weight="bold">**</text><text x="230.81" y="126.21" font-size="8.0" textLength="13.04" lengthAdjust="spacingAndGlyphs" stroke="#000" stroke-width="0.05">0.53</text><text x="243.20" y="123.96" font-size="7.8" font-weight="bold">*</text><text x="266.48" y="126.21" font-size="8.0" textLength="13.04" lengthAdjust="spacingAndGlyphs" stroke="#000" stroke-width="0.05">0.43</text><text x="278.87" y="123.96" font-size="7.8" font-weight="bold">*</text><text x="302.15" y="126.21" font-size="8.0" textLength="13.04" lengthAdjust="spacingAndGlyphs" stroke="#000" stroke-width="0.05">0.63</text><text x="314.54" y="123.96" font-size="7.8" font-weight="bold">**</text><text x="230.81" y="136.59" font-size="8.0" textLength="13.04" lengthAdjust="spacingAndGlyphs" stroke="#000" stroke-width="0.05">0.82</text><text x="243.20" y="134.34" font-size="7.8" font-weight="bold">***</text><text x="266.48" y="136.59" font-size="8.0" textLength="13.04" lengthAdjust="spacingAndGlyphs" stroke="#000" stroke-width="0.05">0.73</text><text x="278.87" y="134.34" font-size="7.8" font-weight="bold">**</text><text x="302.15" y="136.59" font-size="8.0" textLength="13.04" lengthAdjust="spacingAndGlyphs" stroke="#000" stroke-width="0.05">0.37</text><text x="230.81" y="146.97" font-size="8.0" textLength="13.04" lengthAdjust="spacingAndGlyphs" stroke="#000" stroke-width="0.05">0.73</text><text x="243.20" y="144.72" font-size="7.8" font-weight="bold">**</text><text x="266.48" y="146.97" font-size="8.0" textLength="13.04" lengthAdjust="spacingAndGlyphs" stroke="#000" stroke-width="0.05">0.75</text><text x="278.87" y="144.72" font-size="7.8" font-weight="bold">**</text><text x="302.15" y="146.97" font-size="8.0" textLength="13.04" lengthAdjust="spacingAndGlyphs" stroke="#000" stroke-width="0.05">0.87</text><text x="314.54" y="144.72" font-size="7.8" font-weight="bold">***</text><text x="230.81" y="157.35" font-size="8.0" textLength="13.04" lengthAdjust="spacingAndGlyphs" stroke="#000" stroke-width="0.05">0.72</text><text x="243.20" y="155.10" font-size="7.8" font-weight="bold">**</text><text x="266.48" y="157.35" font-size="8.0" textLength="13.04" lengthAdjust="spacingAndGlyphs" stroke="#000" stroke-width="0.05">0.75</text><text x="278.87" y="155.10" font-size="7.8" font-weight="bold">**</text><text x="302.15" y="157.35" font-size="8.0" textLength="13.04" lengthAdjust="spacingAndGlyphs" stroke="#000" stroke-width="0.05">0.92</text><text x="314.54" y="155.10" font-size="7.8" font-weight="bold">***</text><text x="230.81" y="167.74" font-size="8.0" textLength="13.04" lengthAdjust="spacingAndGlyphs" stroke="#000" stroke-width="0.05">0.57</text><text x="243.20" y="165.49" font-size="7.8" font-weight="bold">*</text><text x="266.48" y="167.74" font-size="8.0" textLength="13.04" lengthAdjust="spacingAndGlyphs" stroke="#000" stroke-width="0.05">0.45</text><text x="278.87" y="165.49" font-size="7.8" font-weight="bold">*</text><text x="302.15" y="167.74" font-size="8.0" textLength="13.04" lengthAdjust="spacingAndGlyphs" stroke="#000" stroke-width="0.05">0.79</text><text x="314.54" y="165.49" font-size="7.8" font-weight="bold">**</text><text x="230.81" y="178.12" font-size="8.0" textLength="13.04" lengthAdjust="spacingAndGlyphs" stroke="#000" stroke-width="0.05">0.59</text><text x="243.20" y="175.87" font-size="7.8" font-weight="bold">*</text><text x="266.48" y="178.12" font-size="8.0" textLength="13.04" lengthAdjust="spacingAndGlyphs" stroke="#000" stroke-width="0.05">0.52</text><text x="278.87" y="175.87" font-size="7.8" font-weight="bold">*</text><text x="302.15" y="178.12" font-size="8.0" textLength="13.04" lengthAdjust="spacingAndGlyphs" stroke="#000" stroke-width="0.05">0.77</text><text x="314.54" y="175.87" font-size="7.8" font-weight="bold">**</text><text x="230.81" y="188.50" font-size="8.0" textLength="13.04" lengthAdjust="spacingAndGlyphs" stroke="#000" stroke-width="0.05">0.57</text><text x="243.20" y="186.25" font-size="7.8" font-weight="bold">*</text><text x="266.48" y="188.50" font-size="8.0" textLength="13.04" lengthAdjust="spacingAndGlyphs" stroke="#000" stroke-width="0.05">0.51</text><text x="278.87" y="186.25" font-size="7.8" font-weight="bold">*</text><text x="302.15" y="188.50" font-size="8.0" textLength="13.04" lengthAdjust="spacingAndGlyphs" stroke="#000" stroke-width="0.05">0.79</text><text x="314.54" y="186.25" font-size="7.8" font-weight="bold">**</text><text x="230.81" y="198.88" font-size="8.0" textLength="13.04" lengthAdjust="spacingAndGlyphs" stroke="#000" stroke-width="0.05">0.33</text><text x="266.48" y="198.88" font-size="8.0" textLength="13.04" lengthAdjust="spacingAndGlyphs" stroke="#000" stroke-width="0.05">0.23</text><text x="300.05" y="198.88" font-size="8.0" textLength="17.24" lengthAdjust="spacingAndGlyphs" stroke="#000" stroke-width="0.05">−0.04</text><text x="230.81" y="209.26" font-size="8.0" textLength="13.04" lengthAdjust="spacingAndGlyphs" stroke="#000" stroke-width="0.05">0.69</text><text x="243.20" y="207.01" font-size="7.8" font-weight="bold">**</text><text x="266.48" y="209.26" font-size="8.0" textLength="13.04" lengthAdjust="spacingAndGlyphs" stroke="#000" stroke-width="0.05">0.63</text><text x="278.87" y="207.01" font-size="7.8" font-weight="bold">**</text><text x="302.15" y="209.26" font-size="8.0" textLength="13.04" lengthAdjust="spacingAndGlyphs" stroke="#000" stroke-width="0.05">0.71</text><text x="314.54" y="207.01" font-size="7.8" font-weight="bold">**</text><text x="230.81" y="219.65" font-size="8.0" textLength="13.04" lengthAdjust="spacingAndGlyphs" stroke="#000" stroke-width="0.05">0.75</text><text x="243.20" y="217.40" font-size="7.8" font-weight="bold">**</text><text x="266.48" y="219.65" font-size="8.0" textLength="13.04" lengthAdjust="spacingAndGlyphs" stroke="#000" stroke-width="0.05">0.71</text><text x="278.87" y="217.40" font-size="7.8" font-weight="bold">**</text><text x="302.15" y="219.65" font-size="8.0" textLength="13.04" lengthAdjust="spacingAndGlyphs" stroke="#000" stroke-width="0.05">0.72</text><text x="314.54" y="217.40" font-size="7.8" font-weight="bold">**</text><text x="230.81" y="230.03" font-size="8.0" textLength="13.04" lengthAdjust="spacingAndGlyphs" stroke="#000" stroke-width="0.05">0.71</text><text x="243.20" y="227.78" font-size="7.8" font-weight="bold">**</text><text x="266.48" y="230.03" font-size="8.0" textLength="13.04" lengthAdjust="spacingAndGlyphs" stroke="#000" stroke-width="0.05">0.62</text><text x="278.87" y="227.78" font-size="7.8" font-weight="bold">**</text><text x="302.15" y="230.03" font-size="8.0" textLength="13.04" lengthAdjust="spacingAndGlyphs" stroke="#000" stroke-width="0.05">0.85</text><text x="314.54" y="227.78" font-size="7.8" font-weight="bold">***</text><text x="230.81" y="240.41" font-size="8.0" textLength="13.04" lengthAdjust="spacingAndGlyphs" stroke="#000" stroke-width="0.05">0.47</text><text x="243.20" y="238.16" font-size="7.8" font-weight="bold">*</text><text x="266.48" y="240.41" font-size="8.0" textLength="13.04" lengthAdjust="spacingAndGlyphs" stroke="#000" stroke-width="0.05">0.51</text><text x="278.87" y="238.16" font-size="7.8" font-weight="bold">*</text><text x="302.15" y="240.41" font-size="8.0" textLength="13.04" lengthAdjust="spacingAndGlyphs" stroke="#000" stroke-width="0.05">0.43</text><text x="314.54" y="238.16" font-size="7.8" font-weight="bold">*</text><rect x="219.50" y="14.50" width="107.00" height="228.40" fill="none" stroke="#1a1a1a" stroke-width="0.95"/><line x1="215.00" y1="19.69" x2="219.50" y2="19.69" stroke="#000" stroke-width="1.1"/><text x="212.50" y="21.59" font-size="10.2" text-anchor="end">X<tspan font-size="6.2" dy="2.6">22</tspan></text><line x1="215.00" y1="30.07" x2="219.50" y2="30.07" stroke="#000" stroke-width="1.1"/><text x="212.50" y="31.97" font-size="10.2" text-anchor="end">X<tspan font-size="6.2" dy="2.6">21</tspan></text><line x1="215.00" y1="40.45" x2="219.50" y2="40.45" stroke="#000" stroke-width="1.1"/><text x="212.50" y="42.35" font-size="10.2" text-anchor="end">X<tspan font-size="6.2" dy="2.6">20</tspan></text><line x1="215.00" y1="50.84" x2="219.50" y2="50.84" stroke="#000" stroke-width="1.1"/><text x="212.50" y="52.74" font-size="10.2" text-anchor="end">X<tspan font-size="6.2" dy="2.6">19</tspan></text><line x1="215.00" y1="61.22" x2="219.50" y2="61.22" stroke="#000" stroke-width="1.1"/><text x="212.50" y="63.12" font-size="10.2" text-anchor="end">X<tspan font-size="6.2" dy="2.6">18</tspan></text><line x1="215.00" y1="71.60" x2="219.50" y2="71.60" stroke="#000" stroke-width="1.1"/><text x="212.50" y="73.50" font-size="10.2" text-anchor="end">X<tspan font-size="6.2" dy="2.6">17</tspan></text><line x1="215.00" y1="81.98" x2="219.50" y2="81.98" stroke="#000" stroke-width="1.1"/><text x="212.50" y="83.88" font-size="10.2" text-anchor="end">X<tspan font-size="6.2" dy="2.6">16</tspan></text><line x1="215.00" y1="92.36" x2="219.50" y2="92.36" stroke="#000" stroke-width="1.1"/><text x="212.50" y="94.26" font-size="10.2" text-anchor="end">X<tspan font-size="6.2" dy="2.6">15</tspan></text><line x1="215.00" y1="102.75" x2="219.50" y2="102.75" stroke="#000" stroke-width="1.1"/><text x="212.50" y="104.65" font-size="10.2" text-anchor="end">X<tspan font-size="6.2" dy="2.6">14</tspan></text><line x1="215.00" y1="113.13" x2="219.50" y2="113.13" stroke="#000" stroke-width="1.1"/><text x="212.50" y="115.03" font-size="10.2" text-anchor="end">X<tspan font-size="6.2" dy="2.6">13</tspan></text><line x1="215.00" y1="123.51" x2="219.50" y2="123.51" stroke="#000" stroke-width="1.1"/><text x="212.50" y="125.41" font-size="10.2" text-anchor="end">X<tspan font-size="6.2" dy="2.6">12</tspan></text><line x1="215.00" y1="133.89" x2="219.50" y2="133.89" stroke="#000" stroke-width="1.1"/><text x="212.50" y="135.79" font-size="10.2" text-anchor="end">X<tspan font-size="6.2" dy="2.6">11</tspan></text><line x1="215.00" y1="144.27" x2="219.50" y2="144.27" stroke="#000" stroke-width="1.1"/><text x="212.50" y="146.17" font-size="10.2" text-anchor="end">X<tspan font-size="6.2" dy="2.6">10</tspan></text><line x1="215.00" y1="154.65" x2="219.50" y2="154.65" stroke="#000" stroke-width="1.1"/><text x="212.50" y="156.55" font-size="10.2" text-anchor="end">X<tspan font-size="6.2" dy="2.6">9</tspan></text><line x1="215.00" y1="165.04" x2="219.50" y2="165.04" stroke="#000" stroke-width="1.1"/><text x="212.50" y="166.94" font-size="10.2" text-anchor="end">X<tspan font-size="6.2" dy="2.6">8</tspan></text><line x1="215.00" y1="175.42" x2="219.50" y2="175.42" stroke="#000" stroke-width="1.1"/><text x="212.50" y="177.32" font-size="10.2" text-anchor="end">X<tspan font-size="6.2" dy="2.6">7</tspan></text><line x1="215.00" y1="185.80" x2="219.50" y2="185.80" stroke="#000" stroke-width="1.1"/><text x="212.50" y="187.70" font-size="10.2" text-anchor="end">X<tspan font-size="6.2" dy="2.6">6</tspan></text><line x1="215.00" y1="196.18" x2="219.50" y2="196.18" stroke="#000" stroke-width="1.1"/><text x="212.50" y="198.08" font-size="10.2" text-anchor="end">X<tspan font-size="6.2" dy="2.6">5</tspan></text><line x1="215.00" y1="206.56" x2="219.50" y2="206.56" stroke="#000" stroke-width="1.1"/><text x="212.50" y="208.46" font-size="10.2" text-anchor="end">X<tspan font-size="6.2" dy="2.6">4</tspan></text><line x1="215.00" y1="216.95" x2="219.50" y2="216.95" stroke="#000" stroke-width="1.1"/><text x="212.50" y="218.85" font-size="10.2" text-anchor="end">X<tspan font-size="6.2" dy="2.6">3</tspan></text><line x1="215.00" y1="227.33" x2="219.50" y2="227.33" stroke="#000" stroke-width="1.1"/><text x="212.50" y="229.23" font-size="10.2" text-anchor="end">X<tspan font-size="6.2" dy="2.6">2</tspan></text><line x1="215.00" y1="237.71" x2="219.50" y2="237.71" stroke="#000" stroke-width="1.1"/><text x="212.50" y="239.61" font-size="10.2" text-anchor="end">X<tspan font-size="6.2" dy="2.6">1</tspan></text><line x1="237.33" y1="242.90" x2="237.33" y2="246.80" stroke="#222" stroke-width="1.1"/><text x="237.33" y="253.6" font-size="8.2" text-anchor="middle" stroke="#000" stroke-width="0.08">2012</text><line x1="273.00" y1="242.90" x2="273.00" y2="246.80" stroke="#222" stroke-width="1.1"/><text x="273.00" y="253.6" font-size="8.2" text-anchor="middle" stroke="#000" stroke-width="0.08">2016</text><line x1="308.67" y1="242.90" x2="308.67" y2="246.80" stroke="#222" stroke-width="1.1"/><text x="308.67" y="253.6" font-size="8.2" text-anchor="middle" stroke="#000" stroke-width="0.08">2021</text><text x="272.10" y="267.6" font-size="10.7" text-anchor="middle" stroke="#000" stroke-width="0.15">Year</text><text x="273.50" y="11.6" font-size="13" text-anchor="middle">B</text><text transform="translate(194.20,128.70) rotate(-90)" font-size="10.6" text-anchor="middle">Factor of influence</text><defs><linearGradient id="cbB" x1="0" y1="0" x2="0" y2="1"><stop offset="0.0000" stop-color="#ee2d2d"/><stop offset="0.0227" stop-color="#ee2d2d"/><stop offset="0.0227" stop-color="#ef3737"/><stop offset="0.0455" stop-color="#ef3737"/><stop offset="0.0455" stop-color="#f04141"/><stop offset="0.0682" stop-color="#f04141"/><stop offset="0.0682" stop-color="#f14c4c"/><stop offset="0.0909" stop-color="#f14c4c"/><stop offset="0.0909" stop-color="#f25656"/><stop offset="0.1136" stop-color="#f25656"/><stop offset="0.1136" stop-color="#f26060"/><stop offset="0.1364" stop-color="#f26060"/><stop offset="0.1364" stop-color="#f36a6a"/><stop offset="0.1591" stop-color="#f36a6a"/><stop offset="0.1591" stop-color="#f47474"/><stop offset="0.1818" stop-color="#f47474"/><stop offset="0.1818" stop-color="#f57f7f"/><stop offset="0.2045" stop-color="#f57f7f"/><stop offset="0.2045" stop-color="#f68989"/><stop offset="0.2273" stop-color="#f68989"/><stop offset="0.2273" stop-color="#f69393"/><stop offset="0.2500" stop-color="#f69393"/><stop offset="0.2500" stop-color="#f79d9d"/><stop offset="0.2727" stop-color="#f79d9d"/><stop offset="0.2727" stop-color="#f8a7a7"/><stop offset="0.2955" stop-color="#f8a7a7"/><stop offset="0.2955" stop-color="#f9b1b1"/><stop offset="0.3182" stop-color="#f9b1b1"/><stop offset="0.3182" stop-color="#fabcbc"/><stop offset="0.3409" stop-color="#fabcbc"/><stop offset="0.3409" stop-color="#fac6c6"/><stop offset="0.3636" stop-color="#fac6c6"/><stop offset="0.3636" stop-color="#fbd0d0"/><stop offset="0.3864" stop-color="#fbd0d0"/><stop offset="0.3864" stop-color="#fcdada"/><stop offset="0.4091" stop-color="#fcdada"/><stop offset="0.4091" stop-color="#fde4e4"/><stop offset="0.4318" stop-color="#fde4e4"/><stop offset="0.4318" stop-color="#feefef"/><stop offset="0.4545" stop-color="#feefef"/><stop offset="0.4545" stop-color="#fff9f9"/><stop offset="0.4773" stop-color="#fff9f9"/><stop offset="0.4773" stop-color="#ffffff"/><stop offset="0.5000" stop-color="#ffffff"/><stop offset="0.5000" stop-color="#eaf0f3"/><stop offset="0.5227" stop-color="#eaf0f3"/><stop offset="0.5227" stop-color="#d8eeee"/><stop offset="0.5455" stop-color="#d8eeee"/><stop offset="0.5455" stop-color="#cdebeb"/><stop offset="0.5682" stop-color="#cdebeb"/><stop offset="0.5682" stop-color="#c4e7e9"/><stop offset="0.5909" stop-color="#c4e7e9"/><stop offset="0.5909" stop-color="#b5e1e3"/><stop offset="0.6136" stop-color="#b5e1e3"/><stop offset="0.6136" stop-color="#a0d8d9"/><stop offset="0.6364" stop-color="#a0d8d9"/><stop offset="0.6364" stop-color="#91d2d3"/><stop offset="0.6591" stop-color="#91d2d3"/><stop offset="0.6591" stop-color="#84cdcd"/><stop offset="0.6818" stop-color="#84cdcd"/><stop offset="0.6818" stop-color="#78c7c6"/><stop offset="0.7045" stop-color="#78c7c6"/><stop offset="0.7045" stop-color="#60c1bf"/><stop offset="0.7273" stop-color="#60c1bf"/><stop offset="0.7273" stop-color="#46bcb8"/><stop offset="0.7500" stop-color="#46bcb8"/><stop offset="0.7500" stop-color="#33b6b3"/><stop offset="0.7727" stop-color="#33b6b3"/><stop offset="0.7727" stop-color="#25b2b0"/><stop offset="0.7955" stop-color="#25b2b0"/><stop offset="0.7955" stop-color="#16adac"/><stop offset="0.8182" stop-color="#16adac"/><stop offset="0.8182" stop-color="#10a8a8"/><stop offset="0.8409" stop-color="#10a8a8"/><stop offset="0.8409" stop-color="#0ca4a4"/><stop offset="0.8636" stop-color="#0ca4a4"/><stop offset="0.8636" stop-color="#08a09f"/><stop offset="0.8864" stop-color="#08a09f"/><stop offset="0.8864" stop-color="#049c9a"/><stop offset="0.9091" stop-color="#049c9a"/><stop offset="0.9091" stop-color="#009896"/><stop offset="0.9318" stop-color="#009896"/><stop offset="0.9318" stop-color="#009493"/><stop offset="0.9545" stop-color="#009493"/><stop offset="0.9545" stop-color="#00908f"/><stop offset="0.9773" stop-color="#00908f"/><stop offset="0.9773" stop-color="#008c8c"/><stop offset="1.0000" stop-color="#008c8c"/></linearGradient></defs><rect x="331.40" y="14.30" width="14.80" height="228.30" fill="url(#cbB)"/><rect x="331.40" y="14.30" width="14.80" height="228.30" fill="none" stroke="#000" stroke-opacity="0.6" stroke-width="0.6"/><line x1="346.20" y1="14.40" x2="350.00" y2="14.40" stroke="#333" stroke-width="0.6"/><text x="352.00" y="16.50" font-size="6" fill="#4a4a4a">0.92</text><line x1="346.20" y1="59.96" x2="350.00" y2="59.96" stroke="#333" stroke-width="0.6"/><text x="352.00" y="62.06" font-size="6" fill="#4a4a4a">0.66</text><line x1="346.20" y1="105.52" x2="350.00" y2="105.52" stroke="#333" stroke-width="0.6"/><text x="352.00" y="107.62" font-size="6" fill="#4a4a4a">0.40</text><line x1="346.20" y1="151.08" x2="350.00" y2="151.08" stroke="#333" stroke-width="0.6"/><text x="352.00" y="153.18" font-size="6" fill="#4a4a4a">0.15</text><line x1="346.20" y1="196.64" x2="350.00" y2="196.64" stroke="#333" stroke-width="0.6"/><text x="352.00" y="198.74" font-size="6" fill="#4a4a4a">-0.11</text><line x1="346.20" y1="242.20" x2="350.00" y2="242.20" stroke="#333" stroke-width="0.6"/><text x="352.00" y="244.30" font-size="6" fill="#4a4a4a">-0.37</text></g>
<g><rect x="401.90" y="14.50" width="36.07" height="10.78" fill="#a1d9da"/><rect x="437.57" y="14.50" width="36.07" height="10.78" fill="#cfebec"/><rect x="473.23" y="14.50" width="36.07" height="10.78" fill="#f14e4e"/><rect x="401.90" y="24.88" width="36.07" height="10.78" fill="#d5edee"/><rect x="437.57" y="24.88" width="36.07" height="10.78" fill="#fffcfc"/><rect x="473.23" y="24.88" width="36.07" height="10.78" fill="#f36b6b"/><rect x="401.90" y="35.26" width="36.07" height="10.78" fill="#c2e7e9"/><rect x="437.57" y="35.26" width="36.07" height="10.78" fill="#c2e7e9"/><rect x="473.23" y="35.26" width="36.07" height="10.78" fill="#f8a2a2"/><rect x="401.90" y="45.65" width="36.07" height="10.78" fill="#f79f9f"/><rect x="437.57" y="45.65" width="36.07" height="10.78" fill="#fef4f4"/><rect x="473.23" y="45.65" width="36.07" height="10.78" fill="#fcdfdf"/><rect x="401.90" y="56.03" width="36.07" height="10.78" fill="#f03c3c"/><rect x="437.57" y="56.03" width="36.07" height="10.78" fill="#f15454"/><rect x="473.23" y="56.03" width="36.07" height="10.78" fill="#f68888"/><rect x="401.90" y="66.41" width="36.07" height="10.78" fill="#f15151"/><rect x="437.57" y="66.41" width="36.07" height="10.78" fill="#ef3737"/><rect x="473.23" y="66.41" width="36.07" height="10.78" fill="#ef3737"/><rect x="401.90" y="76.79" width="36.07" height="10.78" fill="#f04242"/><rect x="437.57" y="76.79" width="36.07" height="10.78" fill="#ef3737"/><rect x="473.23" y="76.79" width="36.07" height="10.78" fill="#f8a5a5"/><rect x="401.90" y="87.17" width="36.07" height="10.78" fill="#ef3737"/><rect x="437.57" y="87.17" width="36.07" height="10.78" fill="#ee2828"/><rect x="473.23" y="87.17" width="36.07" height="10.78" fill="#f47777"/><rect x="401.90" y="97.55" width="36.07" height="10.78" fill="#f79f9f"/><rect x="437.57" y="97.55" width="36.07" height="10.78" fill="#f79494"/><rect x="473.23" y="97.55" width="36.07" height="10.78" fill="#f8a2a2"/><rect x="401.90" y="107.94" width="36.07" height="10.78" fill="#f25959"/><rect x="437.57" y="107.94" width="36.07" height="10.78" fill="#f14848"/><rect x="473.23" y="107.94" width="36.07" height="10.78" fill="#f8a2a2"/><rect x="401.90" y="118.32" width="36.07" height="10.78" fill="#f36262"/><rect x="437.57" y="118.32" width="36.07" height="10.78" fill="#f25f5f"/><rect x="473.23" y="118.32" width="36.07" height="10.78" fill="#fbcece"/><rect x="401.90" y="128.70" width="36.07" height="10.78" fill="#f03f3f"/><rect x="437.57" y="128.70" width="36.07" height="10.78" fill="#f47777"/><rect x="473.23" y="128.70" width="36.07" height="10.78" fill="#cfebec"/><rect x="401.90" y="139.08" width="36.07" height="10.78" fill="#f36262"/><rect x="437.57" y="139.08" width="36.07" height="10.78" fill="#f36b6b"/><rect x="473.23" y="139.08" width="36.07" height="10.78" fill="#f9b1b1"/><rect x="401.90" y="149.46" width="36.07" height="10.78" fill="#f36b6b"/><rect x="437.57" y="149.46" width="36.07" height="10.78" fill="#f25959"/><rect x="473.23" y="149.46" width="36.07" height="10.78" fill="#f8a2a2"/><rect x="401.90" y="159.85" width="36.07" height="10.78" fill="#f25f5f"/><rect x="437.57" y="159.85" width="36.07" height="10.78" fill="#ef3939"/><rect x="473.23" y="159.85" width="36.07" height="10.78" fill="#f79494"/><rect x="401.90" y="170.23" width="36.07" height="10.78" fill="#ef3939"/><rect x="437.57" y="170.23" width="36.07" height="10.78" fill="#ee2828"/><rect x="473.23" y="170.23" width="36.07" height="10.78" fill="#f36868"/><rect x="401.90" y="180.61" width="36.07" height="10.78" fill="#f14e4e"/><rect x="437.57" y="180.61" width="36.07" height="10.78" fill="#ef3131"/><rect x="473.23" y="180.61" width="36.07" height="10.78" fill="#f25f5f"/><rect x="401.90" y="190.99" width="36.07" height="10.78" fill="#f47171"/><rect x="437.57" y="190.99" width="36.07" height="10.78" fill="#f47474"/><rect x="473.23" y="190.99" width="36.07" height="10.78" fill="#8cd0d1"/><rect x="401.90" y="201.37" width="36.07" height="10.78" fill="#ef3131"/><rect x="437.57" y="201.37" width="36.07" height="10.78" fill="#ef3939"/><rect x="473.23" y="201.37" width="36.07" height="10.78" fill="#f04242"/><rect x="401.90" y="211.75" width="36.07" height="10.78" fill="#ee2828"/><rect x="437.57" y="211.75" width="36.07" height="10.78" fill="#ef3737"/><rect x="473.23" y="211.75" width="36.07" height="10.78" fill="#ef3737"/><rect x="401.90" y="222.14" width="36.07" height="10.78" fill="#ee2828"/><rect x="437.57" y="222.14" width="36.07" height="10.78" fill="#ee2828"/><rect x="473.23" y="222.14" width="36.07" height="10.78" fill="#f15454"/><rect x="401.90" y="232.52" width="36.07" height="10.78" fill="#f36b6b"/><rect x="437.57" y="232.52" width="36.07" height="10.78" fill="#f36b6b"/><rect x="473.23" y="232.52" width="36.07" height="10.78" fill="#fcd9d9"/><text x="413.21" y="22.39" font-size="8.0" textLength="13.04" lengthAdjust="spacingAndGlyphs" stroke="#000" stroke-width="0.05">0.02</text><text x="448.88" y="22.39" font-size="8.0" textLength="13.04" lengthAdjust="spacingAndGlyphs" stroke="#000" stroke-width="0.05">0.13</text><text x="484.55" y="22.39" font-size="8.0" textLength="13.04" lengthAdjust="spacingAndGlyphs" stroke="#000" stroke-width="0.05">0.85</text><text x="496.94" y="20.14" font-size="7.8" font-weight="bold">***</text><text x="413.21" y="32.77" font-size="8.0" textLength="13.04" lengthAdjust="spacingAndGlyphs" stroke="#000" stroke-width="0.05">0.15</text><text x="448.88" y="32.77" font-size="8.0" textLength="13.04" lengthAdjust="spacingAndGlyphs" stroke="#000" stroke-width="0.05">0.25</text><text x="484.55" y="32.77" font-size="8.0" textLength="13.04" lengthAdjust="spacingAndGlyphs" stroke="#000" stroke-width="0.05">0.75</text><text x="496.94" y="30.52" font-size="7.8" font-weight="bold">**</text><text x="413.21" y="43.15" font-size="8.0" textLength="13.04" lengthAdjust="spacingAndGlyphs" stroke="#000" stroke-width="0.05">0.08</text><text x="448.88" y="43.15" font-size="8.0" textLength="13.04" lengthAdjust="spacingAndGlyphs" stroke="#000" stroke-width="0.05">0.08</text><text x="484.55" y="43.15" font-size="8.0" textLength="13.04" lengthAdjust="spacingAndGlyphs" stroke="#000" stroke-width="0.05">0.56</text><text x="496.94" y="40.90" font-size="7.8" font-weight="bold">*</text><text x="413.21" y="53.54" font-size="8.0" textLength="13.04" lengthAdjust="spacingAndGlyphs" stroke="#000" stroke-width="0.05">0.57</text><text x="425.60" y="51.29" font-size="7.8" font-weight="bold">*</text><text x="448.88" y="53.54" font-size="8.0" textLength="13.04" lengthAdjust="spacingAndGlyphs" stroke="#000" stroke-width="0.05">0.28</text><text x="484.55" y="53.54" font-size="8.0" textLength="13.04" lengthAdjust="spacingAndGlyphs" stroke="#000" stroke-width="0.05">0.35</text><text x="413.21" y="63.92" font-size="8.0" textLength="13.04" lengthAdjust="spacingAndGlyphs" stroke="#000" stroke-width="0.05">0.91</text><text x="425.60" y="61.67" font-size="7.8" font-weight="bold">***</text><text x="448.88" y="63.92" font-size="8.0" textLength="13.04" lengthAdjust="spacingAndGlyphs" stroke="#000" stroke-width="0.05">0.83</text><text x="461.27" y="61.67" font-size="7.8" font-weight="bold">***</text><text x="484.55" y="63.92" font-size="8.0" textLength="13.04" lengthAdjust="spacingAndGlyphs" stroke="#000" stroke-width="0.05">0.65</text><text x="496.94" y="61.67" font-size="7.8" font-weight="bold">**</text><text x="413.21" y="74.30" font-size="8.0" textLength="13.04" lengthAdjust="spacingAndGlyphs" stroke="#000" stroke-width="0.05">0.84</text><text x="425.60" y="72.05" font-size="7.8" font-weight="bold">***</text><text x="448.88" y="74.30" font-size="8.0" textLength="13.04" lengthAdjust="spacingAndGlyphs" stroke="#000" stroke-width="0.05">0.93</text><text x="461.27" y="72.05" font-size="7.8" font-weight="bold">***</text><text x="484.55" y="74.30" font-size="8.0" textLength="13.04" lengthAdjust="spacingAndGlyphs" stroke="#000" stroke-width="0.05">0.93</text><text x="496.94" y="72.05" font-size="7.8" font-weight="bold">***</text><text x="413.21" y="84.68" font-size="8.0" textLength="13.04" lengthAdjust="spacingAndGlyphs" stroke="#000" stroke-width="0.05">0.89</text><text x="425.60" y="82.43" font-size="7.8" font-weight="bold">***</text><text x="448.88" y="84.68" font-size="8.0" textLength="13.04" lengthAdjust="spacingAndGlyphs" stroke="#000" stroke-width="0.05">0.93</text><text x="461.27" y="82.43" font-size="7.8" font-weight="bold">***</text><text x="484.55" y="84.68" font-size="8.0" textLength="13.04" lengthAdjust="spacingAndGlyphs" stroke="#000" stroke-width="0.05">0.55</text><text x="496.94" y="82.43" font-size="7.8" font-weight="bold">*</text><text x="413.21" y="95.06" font-size="8.0" textLength="13.04" lengthAdjust="spacingAndGlyphs" stroke="#000" stroke-width="0.05">0.93</text><text x="425.60" y="92.81" font-size="7.8" font-weight="bold">***</text><text x="448.88" y="95.06" font-size="8.0" textLength="13.04" lengthAdjust="spacingAndGlyphs" stroke="#000" stroke-width="0.05">0.98</text><text x="461.27" y="92.81" font-size="7.8" font-weight="bold">***</text><text x="484.55" y="95.06" font-size="8.0" textLength="13.04" lengthAdjust="spacingAndGlyphs" stroke="#000" stroke-width="0.05">0.71</text><text x="496.94" y="92.81" font-size="7.8" font-weight="bold">**</text><text x="413.21" y="105.45" font-size="8.0" textLength="13.04" lengthAdjust="spacingAndGlyphs" stroke="#000" stroke-width="0.05">0.57</text><text x="425.60" y="103.20" font-size="7.8" font-weight="bold">*</text><text x="448.88" y="105.45" font-size="8.0" textLength="13.04" lengthAdjust="spacingAndGlyphs" stroke="#000" stroke-width="0.05">0.61</text><text x="461.27" y="103.20" font-size="7.8" font-weight="bold">**</text><text x="484.55" y="105.45" font-size="8.0" textLength="13.04" lengthAdjust="spacingAndGlyphs" stroke="#000" stroke-width="0.05">0.56</text><text x="496.94" y="103.20" font-size="7.8" font-weight="bold">*</text><text x="413.21" y="115.83" font-size="8.0" textLength="13.04" lengthAdjust="spacingAndGlyphs" stroke="#000" stroke-width="0.05">0.81</text><text x="425.60" y="113.58" font-size="7.8" font-weight="bold">***</text><text x="448.88" y="115.83" font-size="8.0" textLength="13.04" lengthAdjust="spacingAndGlyphs" stroke="#000" stroke-width="0.05">0.87</text><text x="461.27" y="113.58" font-size="7.8" font-weight="bold">***</text><text x="484.55" y="115.83" font-size="8.0" textLength="13.04" lengthAdjust="spacingAndGlyphs" stroke="#000" stroke-width="0.05">0.56</text><text x="498.74" y="113.58" font-size="7.8" font-weight="bold">**</text><text x="413.21" y="126.21" font-size="8.0" textLength="13.04" lengthAdjust="spacingAndGlyphs" stroke="#000" stroke-width="0.05">0.78</text><text x="425.60" y="123.96" font-size="7.8" font-weight="bold">**</text><text x="448.88" y="126.21" font-size="8.0" textLength="13.04" lengthAdjust="spacingAndGlyphs" stroke="#000" stroke-width="0.05">0.79</text><text x="461.27" y="123.96" font-size="7.8" font-weight="bold">**</text><text x="484.55" y="126.21" font-size="8.0" textLength="13.04" lengthAdjust="spacingAndGlyphs" stroke="#000" stroke-width="0.05">0.41</text><text x="496.94" y="123.96" font-size="7.8" font-weight="bold">*</text><text x="415.08" y="136.59" font-size="8.0" textLength="9.31" lengthAdjust="spacingAndGlyphs" stroke="#000" stroke-width="0.05">0.9</text><text x="423.74" y="134.34" font-size="7.8" font-weight="bold">***</text><text x="448.88" y="136.59" font-size="8.0" textLength="13.04" lengthAdjust="spacingAndGlyphs" stroke="#000" stroke-width="0.05">0.71</text><text x="461.27" y="134.34" font-size="7.8" font-weight="bold">**</text><text x="484.55" y="136.59" font-size="8.0" textLength="13.04" lengthAdjust="spacingAndGlyphs" stroke="#000" stroke-width="0.05">0.13</text><text x="413.21" y="146.97" font-size="8.0" textLength="13.04" lengthAdjust="spacingAndGlyphs" stroke="#000" stroke-width="0.05">0.78</text><text x="425.60" y="144.72" font-size="7.8" font-weight="bold">**</text><text x="448.88" y="146.97" font-size="8.0" textLength="13.04" lengthAdjust="spacingAndGlyphs" stroke="#000" stroke-width="0.05">0.75</text><text x="461.27" y="144.72" font-size="7.8" font-weight="bold">**</text><text x="484.55" y="146.97" font-size="8.0" textLength="13.04" lengthAdjust="spacingAndGlyphs" stroke="#000" stroke-width="0.05">0.51</text><text x="496.94" y="144.72" font-size="7.8" font-weight="bold">*</text><text x="413.21" y="157.35" font-size="8.0" textLength="13.04" lengthAdjust="spacingAndGlyphs" stroke="#000" stroke-width="0.05">0.75</text><text x="425.60" y="155.10" font-size="7.8" font-weight="bold">**</text><text x="448.88" y="157.35" font-size="8.0" textLength="13.04" lengthAdjust="spacingAndGlyphs" stroke="#000" stroke-width="0.05">0.81</text><text x="461.27" y="155.10" font-size="7.8" font-weight="bold">***</text><text x="484.55" y="157.35" font-size="8.0" textLength="13.04" lengthAdjust="spacingAndGlyphs" stroke="#000" stroke-width="0.05">0.56</text><text x="496.94" y="155.10" font-size="7.8" font-weight="bold">*</text><text x="413.21" y="167.74" font-size="8.0" textLength="13.04" lengthAdjust="spacingAndGlyphs" stroke="#000" stroke-width="0.05">0.79</text><text x="425.60" y="165.49" font-size="7.8" font-weight="bold">**</text><text x="448.88" y="167.74" font-size="8.0" textLength="13.04" lengthAdjust="spacingAndGlyphs" stroke="#000" stroke-width="0.05">0.92</text><text x="461.27" y="165.49" font-size="7.8" font-weight="bold">***</text><text x="484.55" y="167.74" font-size="8.0" textLength="13.04" lengthAdjust="spacingAndGlyphs" stroke="#000" stroke-width="0.05">0.61</text><text x="496.94" y="165.49" font-size="7.8" font-weight="bold">**</text><text x="413.21" y="178.12" font-size="8.0" textLength="13.04" lengthAdjust="spacingAndGlyphs" stroke="#000" stroke-width="0.05">0.92</text><text x="425.60" y="175.87" font-size="7.8" font-weight="bold">***</text><text x="448.88" y="178.12" font-size="8.0" textLength="13.04" lengthAdjust="spacingAndGlyphs" stroke="#000" stroke-width="0.05">0.98</text><text x="461.27" y="175.87" font-size="7.8" font-weight="bold">***</text><text x="484.55" y="178.12" font-size="8.0" textLength="13.04" lengthAdjust="spacingAndGlyphs" stroke="#000" stroke-width="0.05">0.76</text><text x="496.94" y="175.87" font-size="7.8" font-weight="bold">**</text><text x="413.21" y="188.50" font-size="8.0" textLength="13.04" lengthAdjust="spacingAndGlyphs" stroke="#000" stroke-width="0.05">0.85</text><text x="425.60" y="186.25" font-size="7.8" font-weight="bold">***</text><text x="448.88" y="188.50" font-size="8.0" textLength="13.04" lengthAdjust="spacingAndGlyphs" stroke="#000" stroke-width="0.05">0.95</text><text x="461.27" y="186.25" font-size="7.8" font-weight="bold">***</text><text x="484.55" y="188.50" font-size="8.0" textLength="13.04" lengthAdjust="spacingAndGlyphs" stroke="#000" stroke-width="0.05">0.79</text><text x="496.94" y="186.25" font-size="7.8" font-weight="bold">**</text><text x="413.21" y="198.88" font-size="8.0" textLength="13.04" lengthAdjust="spacingAndGlyphs" stroke="#000" stroke-width="0.05">0.73</text><text x="425.60" y="196.63" font-size="7.8" font-weight="bold">**</text><text x="448.88" y="198.88" font-size="8.0" textLength="13.04" lengthAdjust="spacingAndGlyphs" stroke="#000" stroke-width="0.05">0.72</text><text x="461.27" y="196.63" font-size="7.8" font-weight="bold">**</text><text x="482.45" y="198.88" font-size="8.0" textLength="17.24" lengthAdjust="spacingAndGlyphs" stroke="#000" stroke-width="0.05">−0.03</text><text x="413.21" y="209.26" font-size="8.0" textLength="13.04" lengthAdjust="spacingAndGlyphs" stroke="#000" stroke-width="0.05">0.95</text><text x="425.60" y="207.01" font-size="7.8" font-weight="bold">***</text><text x="448.88" y="209.26" font-size="8.0" textLength="13.04" lengthAdjust="spacingAndGlyphs" stroke="#000" stroke-width="0.05">0.92</text><text x="461.27" y="207.01" font-size="7.8" font-weight="bold">***</text><text x="484.55" y="209.26" font-size="8.0" textLength="13.04" lengthAdjust="spacingAndGlyphs" stroke="#000" stroke-width="0.05">0.89</text><text x="496.94" y="207.01" font-size="7.8" font-weight="bold">***</text><text x="413.21" y="219.65" font-size="8.0" textLength="13.04" lengthAdjust="spacingAndGlyphs" stroke="#000" stroke-width="0.05">0.98</text><text x="425.60" y="217.40" font-size="7.8" font-weight="bold">***</text><text x="448.88" y="219.65" font-size="8.0" textLength="13.04" lengthAdjust="spacingAndGlyphs" stroke="#000" stroke-width="0.05">0.93</text><text x="461.27" y="217.40" font-size="7.8" font-weight="bold">***</text><text x="484.55" y="219.65" font-size="8.0" textLength="13.04" lengthAdjust="spacingAndGlyphs" stroke="#000" stroke-width="0.05">0.93</text><text x="496.94" y="217.40" font-size="7.8" font-weight="bold">***</text><text x="413.21" y="230.03" font-size="8.0" textLength="13.04" lengthAdjust="spacingAndGlyphs" stroke="#000" stroke-width="0.05">0.98</text><text x="425.60" y="227.78" font-size="7.8" font-weight="bold">***</text><text x="448.88" y="230.03" font-size="8.0" textLength="13.04" lengthAdjust="spacingAndGlyphs" stroke="#000" stroke-width="0.05">0.98</text><text x="461.27" y="227.78" font-size="7.8" font-weight="bold">***</text><text x="484.55" y="230.03" font-size="8.0" textLength="13.04" lengthAdjust="spacingAndGlyphs" stroke="#000" stroke-width="0.05">0.83</text><text x="496.94" y="227.78" font-size="7.8" font-weight="bold">***</text><text x="413.21" y="240.41" font-size="8.0" textLength="13.04" lengthAdjust="spacingAndGlyphs" stroke="#000" stroke-width="0.05">0.75</text><text x="425.60" y="238.16" font-size="7.8" font-weight="bold">**</text><text x="448.88" y="240.41" font-size="8.0" textLength="13.04" lengthAdjust="spacingAndGlyphs" stroke="#000" stroke-width="0.05">0.75</text><text x="461.27" y="238.16" font-size="7.8" font-weight="bold">**</text><text x="484.55" y="240.41" font-size="8.0" textLength="13.04" lengthAdjust="spacingAndGlyphs" stroke="#000" stroke-width="0.05">0.37</text><rect x="401.90" y="14.50" width="107.00" height="228.40" fill="none" stroke="#1a1a1a" stroke-width="0.95"/><line x1="397.40" y1="19.69" x2="401.90" y2="19.69" stroke="#000" stroke-width="1.1"/><text x="394.90" y="21.59" font-size="10.2" text-anchor="end">X<tspan font-size="6.2" dy="2.6">22</tspan></text><line x1="397.40" y1="30.07" x2="401.90" y2="30.07" stroke="#000" stroke-width="1.1"/><text x="394.90" y="31.97" font-size="10.2" text-anchor="end">X<tspan font-size="6.2" dy="2.6">21</tspan></text><line x1="397.40" y1="40.45" x2="401.90" y2="40.45" stroke="#000" stroke-width="1.1"/><text x="394.90" y="42.35" font-size="10.2" text-anchor="end">X<tspan font-size="6.2" dy="2.6">20</tspan></text><line x1="397.40" y1="50.84" x2="401.90" y2="50.84" stroke="#000" stroke-width="1.1"/><text x="394.90" y="52.74" font-size="10.2" text-anchor="end">X<tspan font-size="6.2" dy="2.6">19</tspan></text><line x1="397.40" y1="61.22" x2="401.90" y2="61.22" stroke="#000" stroke-width="1.1"/><text x="394.90" y="63.12" font-size="10.2" text-anchor="end">X<tspan font-size="6.2" dy="2.6">18</tspan></text><line x1="397.40" y1="71.60" x2="401.90" y2="71.60" stroke="#000" stroke-width="1.1"/><text x="394.90" y="73.50" font-size="10.2" text-anchor="end">X<tspan font-size="6.2" dy="2.6">17</tspan></text><line x1="397.40" y1="81.98" x2="401.90" y2="81.98" stroke="#000" stroke-width="1.1"/><text x="394.90" y="83.88" font-size="10.2" text-anchor="end">X<tspan font-size="6.2" dy="2.6">16</tspan></text><line x1="397.40" y1="92.36" x2="401.90" y2="92.36" stroke="#000" stroke-width="1.1"/><text x="394.90" y="94.26" font-size="10.2" text-anchor="end">X<tspan font-size="6.2" dy="2.6">15</tspan></text><line x1="397.40" y1="102.75" x2="401.90" y2="102.75" stroke="#000" stroke-width="1.1"/><text x="394.90" y="104.65" font-size="10.2" text-anchor="end">X<tspan font-size="6.2" dy="2.6">14</tspan></text><line x1="397.40" y1="113.13" x2="401.90" y2="113.13" stroke="#000" stroke-width="1.1"/><text x="394.90" y="115.03" font-size="10.2" text-anchor="end">X<tspan font-size="6.2" dy="2.6">13</tspan></text><line x1="397.40" y1="123.51" x2="401.90" y2="123.51" stroke="#000" stroke-width="1.1"/><text x="394.90" y="125.41" font-size="10.2" text-anchor="end">X<tspan font-size="6.2" dy="2.6">12</tspan></text><line x1="397.40" y1="133.89" x2="401.90" y2="133.89" stroke="#000" stroke-width="1.1"/><text x="394.90" y="135.79" font-size="10.2" text-anchor="end">X<tspan font-size="6.2" dy="2.6">11</tspan></text><line x1="397.40" y1="144.27" x2="401.90" y2="144.27" stroke="#000" stroke-width="1.1"/><text x="394.90" y="146.17" font-size="10.2" text-anchor="end">X<tspan font-size="6.2" dy="2.6">10</tspan></text><line x1="397.40" y1="154.65" x2="401.90" y2="154.65" stroke="#000" stroke-width="1.1"/><text x="394.90" y="156.55" font-size="10.2" text-anchor="end">X<tspan font-size="6.2" dy="2.6">9</tspan></text><line x1="397.40" y1="165.04" x2="401.90" y2="165.04" stroke="#000" stroke-width="1.1"/><text x="394.90" y="166.94" font-size="10.2" text-anchor="end">X<tspan font-size="6.2" dy="2.6">8</tspan></text><line x1="397.40" y1="175.42" x2="401.90" y2="175.42" stroke="#000" stroke-width="1.1"/><text x="394.90" y="177.32" font-size="10.2" text-anchor="end">X<tspan font-size="6.2" dy="2.6">7</tspan></text><line x1="397.40" y1="185.80" x2="401.90" y2="185.80" stroke="#000" stroke-width="1.1"/><text x="394.90" y="187.70" font-size="10.2" text-anchor="end">X<tspan font-size="6.2" dy="2.6">6</tspan></text><line x1="397.40" y1="196.18" x2="401.90" y2="196.18" stroke="#000" stroke-width="1.1"/><text x="394.90" y="198.08" font-size="10.2" text-anchor="end">X<tspan font-size="6.2" dy="2.6">5</tspan></text><line x1="397.40" y1="206.56" x2="401.90" y2="206.56" stroke="#000" stroke-width="1.1"/><text x="394.90" y="208.46" font-size="10.2" text-anchor="end">X<tspan font-size="6.2" dy="2.6">4</tspan></text><line x1="397.40" y1="216.95" x2="401.90" y2="216.95" stroke="#000" stroke-width="1.1"/><text x="394.90" y="218.85" font-size="10.2" text-anchor="end">X<tspan font-size="6.2" dy="2.6">3</tspan></text><line x1="397.40" y1="227.33" x2="401.90" y2="227.33" stroke="#000" stroke-width="1.1"/><text x="394.90" y="229.23" font-size="10.2" text-anchor="end">X<tspan font-size="6.2" dy="2.6">2</tspan></text><line x1="397.40" y1="237.71" x2="401.90" y2="237.71" stroke="#000" stroke-width="1.1"/><text x="394.90" y="239.61" font-size="10.2" text-anchor="end">X<tspan font-size="6.2" dy="2.6">1</tspan></text><line x1="419.73" y1="242.90" x2="419.73" y2="246.80" stroke="#222" stroke-width="1.1"/><text x="419.73" y="253.6" font-size="8.2" text-anchor="middle" stroke="#000" stroke-width="0.08">2012</text><line x1="455.40" y1="242.90" x2="455.40" y2="246.80" stroke="#222" stroke-width="1.1"/><text x="455.40" y="253.6" font-size="8.2" text-anchor="middle" stroke="#000" stroke-width="0.08">2016</text><line x1="491.07" y1="242.90" x2="491.07" y2="246.80" stroke="#222" stroke-width="1.1"/><text x="491.07" y="253.6" font-size="8.2" text-anchor="middle" stroke="#000" stroke-width="0.08">2021</text><text x="454.50" y="267.6" font-size="10.7" text-anchor="middle" stroke="#000" stroke-width="0.15">Year</text><text x="455.90" y="11.6" font-size="13" text-anchor="middle">C</text><text transform="translate(376.60,128.70) rotate(-90)" font-size="10.6" text-anchor="middle">Factor of influence</text><defs><linearGradient id="cbC" x1="0" y1="0" x2="0" y2="1"><stop offset="0.0000" stop-color="#ee2d2d"/><stop offset="0.0227" stop-color="#ee2d2d"/><stop offset="0.0227" stop-color="#ef3737"/><stop offset="0.0455" stop-color="#ef3737"/><stop offset="0.0455" stop-color="#f04141"/><stop offset="0.0682" stop-color="#f04141"/><stop offset="0.0682" stop-color="#f14c4c"/><stop offset="0.0909" stop-color="#f14c4c"/><stop offset="0.0909" stop-color="#f25656"/><stop offset="0.1136" stop-color="#f25656"/><stop offset="0.1136" stop-color="#f26060"/><stop offset="0.1364" stop-color="#f26060"/><stop offset="0.1364" stop-color="#f36a6a"/><stop offset="0.1591" stop-color="#f36a6a"/><stop offset="0.1591" stop-color="#f47474"/><stop offset="0.1818" stop-color="#f47474"/><stop offset="0.1818" stop-color="#f57f7f"/><stop offset="0.2045" stop-color="#f57f7f"/><stop offset="0.2045" stop-color="#f68989"/><stop offset="0.2273" stop-color="#f68989"/><stop offset="0.2273" stop-color="#f69393"/><stop offset="0.2500" stop-color="#f69393"/><stop offset="0.2500" stop-color="#f79d9d"/><stop offset="0.2727" stop-color="#f79d9d"/><stop offset="0.2727" stop-color="#f8a7a7"/><stop offset="0.2955" stop-color="#f8a7a7"/><stop offset="0.2955" stop-color="#f9b1b1"/><stop offset="0.3182" stop-color="#f9b1b1"/><stop offset="0.3182" stop-color="#fabcbc"/><stop offset="0.3409" stop-color="#fabcbc"/><stop offset="0.3409" stop-color="#fac6c6"/><stop offset="0.3636" stop-color="#fac6c6"/><stop offset="0.3636" stop-color="#fbd0d0"/><stop offset="0.3864" stop-color="#fbd0d0"/><stop offset="0.3864" stop-color="#fcdada"/><stop offset="0.4091" stop-color="#fcdada"/><stop offset="0.4091" stop-color="#fde4e4"/><stop offset="0.4318" stop-color="#fde4e4"/><stop offset="0.4318" stop-color="#feefef"/><stop offset="0.4545" stop-color="#feefef"/><stop offset="0.4545" stop-color="#fff9f9"/><stop offset="0.4773" stop-color="#fff9f9"/><stop offset="0.4773" stop-color="#ffffff"/><stop offset="0.5000" stop-color="#ffffff"/><stop offset="0.5000" stop-color="#eaf0f3"/><stop offset="0.5227" stop-color="#eaf0f3"/><stop offset="0.5227" stop-color="#d8eeee"/><stop offset="0.5455" stop-color="#d8eeee"/><stop offset="0.5455" stop-color="#cdebeb"/><stop offset="0.5682" stop-color="#cdebeb"/><stop offset="0.5682" stop-color="#c4e7e9"/><stop offset="0.5909" stop-color="#c4e7e9"/><stop offset="0.5909" stop-color="#b5e1e3"/><stop offset="0.6136" stop-color="#b5e1e3"/><stop offset="0.6136" stop-color="#a0d8d9"/><stop offset="0.6364" stop-color="#a0d8d9"/><stop offset="0.6364" stop-color="#91d2d3"/><stop offset="0.6591" stop-color="#91d2d3"/><stop offset="0.6591" stop-color="#84cdcd"/><stop offset="0.6818" stop-color="#84cdcd"/><stop offset="0.6818" stop-color="#78c7c6"/><stop offset="0.7045" stop-color="#78c7c6"/><stop offset="0.7045" stop-color="#60c1bf"/><stop offset="0.7273" stop-color="#60c1bf"/><stop offset="0.7273" stop-color="#46bcb8"/><stop offset="0.7500" stop-color="#46bcb8"/><stop offset="0.7500" stop-color="#33b6b3"/><stop offset="0.7727" stop-color="#33b6b3"/><stop offset="0.7727" stop-color="#25b2b0"/><stop offset="0.7955" stop-color="#25b2b0"/><stop offset="0.7955" stop-color="#16adac"/><stop offset="0.8182" stop-color="#16adac"/><stop offset="0.8182" stop-color="#10a8a8"/><stop offset="0.8409" stop-color="#10a8a8"/><stop offset="0.8409" stop-color="#0ca4a4"/><stop offset="0.8636" stop-color="#0ca4a4"/><stop offset="0.8636" stop-color="#08a09f"/><stop offset="0.8864" stop-color="#08a09f"/><stop offset="0.8864" stop-color="#049c9a"/><stop offset="0.9091" stop-color="#049c9a"/><stop offset="0.9091" stop-color="#009896"/><stop offset="0.9318" stop-color="#009896"/><stop offset="0.9318" stop-color="#009493"/><stop offset="0.9545" stop-color="#009493"/><stop offset="0.9545" stop-color="#00908f"/><stop offset="0.9773" stop-color="#00908f"/><stop offset="0.9773" stop-color="#008c8c"/><stop offset="1.0000" stop-color="#008c8c"/></linearGradient></defs><rect x="513.80" y="14.30" width="14.80" height="228.30" fill="url(#cbC)"/><rect x="513.80" y="14.30" width="14.80" height="228.30" fill="none" stroke="#000" stroke-opacity="0.6" stroke-width="0.6"/><line x1="528.60" y1="14.40" x2="532.40" y2="14.40" stroke="#333" stroke-width="0.6"/><text x="534.40" y="16.50" font-size="6" fill="#4a4a4a">0.98</text><line x1="528.60" y1="59.96" x2="532.40" y2="59.96" stroke="#333" stroke-width="0.6"/><text x="534.40" y="62.06" font-size="6" fill="#4a4a4a">0.67</text><line x1="528.60" y1="105.52" x2="532.40" y2="105.52" stroke="#333" stroke-width="0.6"/><text x="534.40" y="107.62" font-size="6" fill="#4a4a4a">0.36</text><line x1="528.60" y1="151.08" x2="532.40" y2="151.08" stroke="#333" stroke-width="0.6"/><text x="534.40" y="153.18" font-size="6" fill="#4a4a4a">0.05</text><line x1="528.60" y1="196.64" x2="532.40" y2="196.64" stroke="#333" stroke-width="0.6"/><text x="534.40" y="198.74" font-size="6" fill="#4a4a4a">-0.25</text><line x1="528.60" y1="242.20" x2="532.40" y2="242.20" stroke="#333" stroke-width="0.6"/><text x="534.40" y="244.30" font-size="6" fill="#4a4a4a">-0.56</text></g>
</svg></body></html>
